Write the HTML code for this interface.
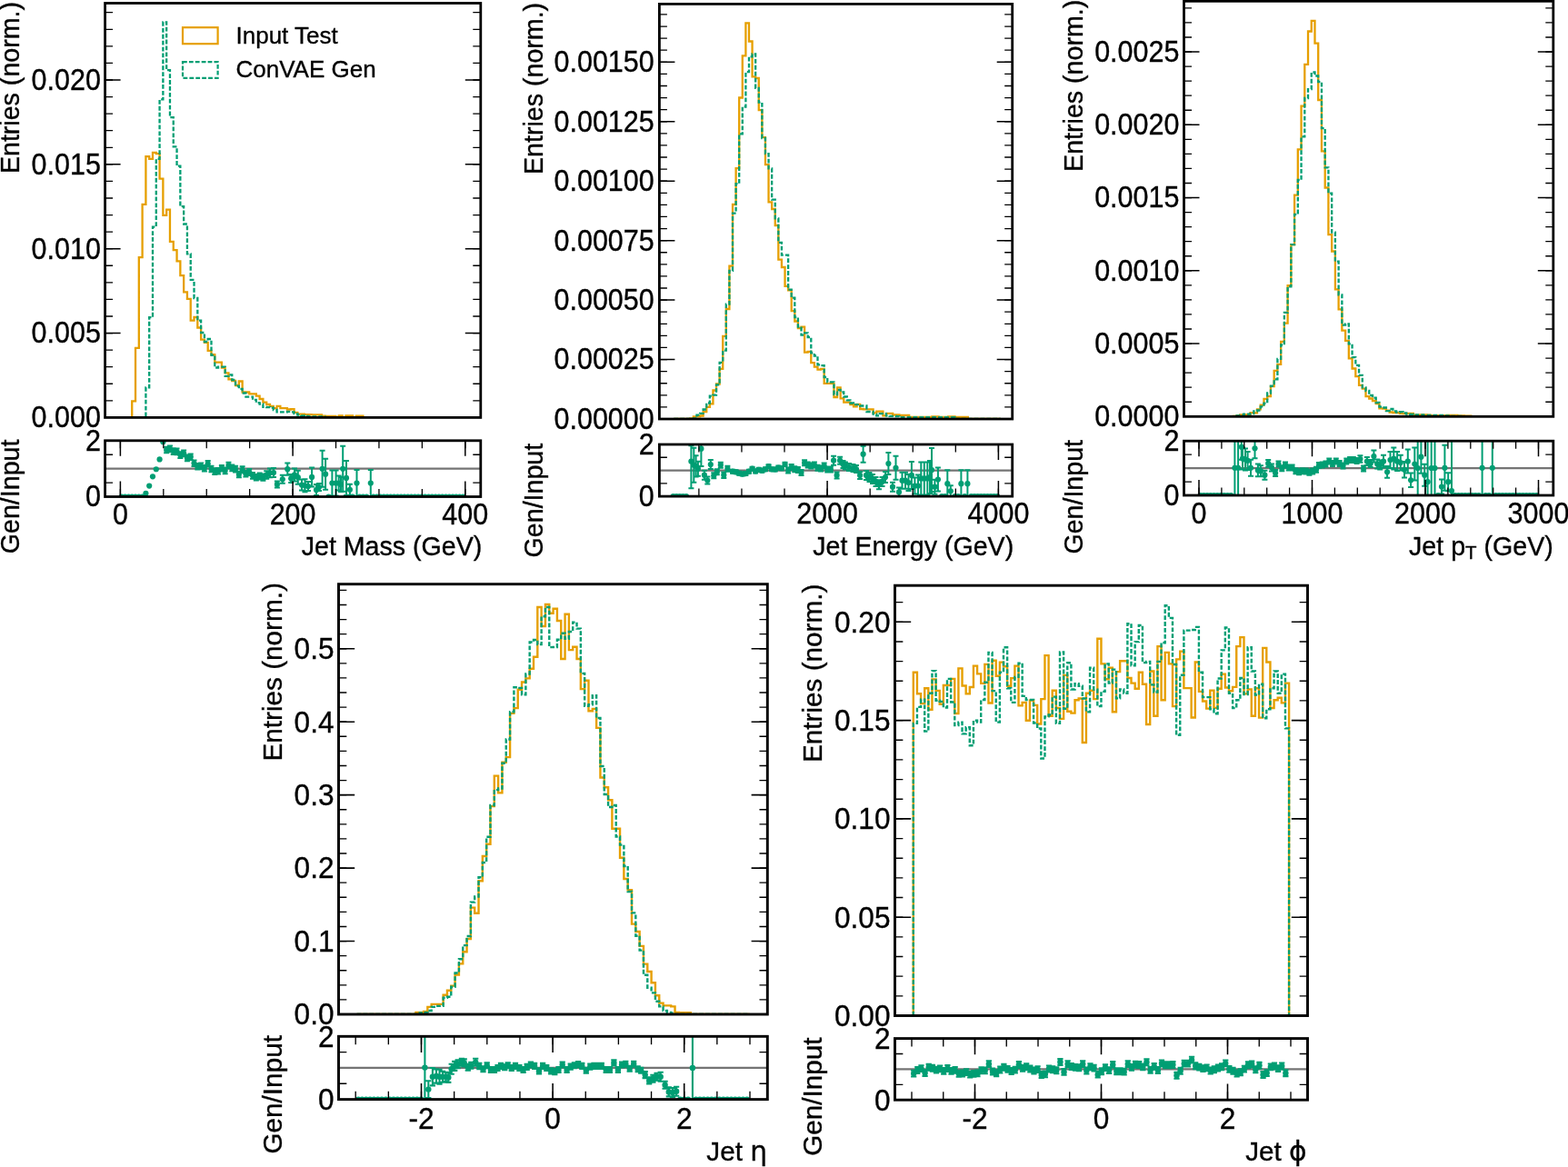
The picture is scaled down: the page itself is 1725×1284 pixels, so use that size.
<!DOCTYPE html>
<html><head><meta charset="utf-8"><title>Jet distributions</title>
<style>html,body{margin:0;padding:0;background:#fff;} svg{display:block;}</style></head>
<body><svg width="1725" height="1284" viewBox="0 0 1725 1284" font-family="'Liberation Sans', Arial, Helvetica, sans-serif" fill="#000">
<style>text{stroke:#000;stroke-width:0.35px;}</style>
<rect width="1725" height="1284" fill="#fff"/>
<clipPath id="cm"><rect x="115.6" y="3.5" width="413.19999999999993" height="455.9"/></clipPath>
<clipPath id="rm"><rect x="115.6" y="484.8" width="413.19999999999993" height="61.69999999999999"/></clipPath>
<path d="M133.85,459.40 L145.23,459.40 L145.23,441.30 L149.03,441.30 L149.03,382.80 L152.82,382.80 L152.82,283.20 L156.61,283.20 L156.61,224.80 L160.41,224.80 L160.41,172.20 L164.20,172.20 L164.20,174.80 L168.00,174.80 L168.00,167.80 L171.79,167.80 L171.79,169.10 L175.58,169.10 L175.58,196.70 L179.38,196.70 L179.38,236.80 L183.17,236.80 L183.17,230.60 L186.97,230.60 L186.97,265.80 L190.76,265.80 L190.76,275.10 L194.55,275.10 L194.55,287.30 L198.35,287.30 L198.35,303.20 L202.14,303.20 L202.14,321.40 L205.94,321.40 L205.94,328.90 L209.73,328.90 L209.73,352.70 L213.52,352.70 L213.52,349.00 L217.32,349.00 L217.32,360.50 L221.11,360.50 L221.11,373.70 L224.91,373.70 L224.91,376.90 L228.70,376.90 L228.70,385.80 L232.49,385.80 L232.49,390.10 L236.29,390.10 L236.29,398.70 L243.88,398.70 L243.88,404.50 L247.67,404.50 L247.67,410.30 L251.46,410.30 L251.46,417.30 L255.26,417.30 L255.26,419.00 L259.05,419.00 L259.05,424.00 L262.85,424.00 L262.85,419.50 L266.64,419.50 L266.64,431.50 L274.23,431.50 L274.23,433.40 L281.82,433.40 L281.82,435.70 L285.61,435.70 L285.61,439.00 L289.40,439.00 L289.40,442.70 L293.20,442.70 L293.20,445.00 L296.99,445.00 L296.99,446.80 L300.79,446.80 L300.79,449.20 L304.58,449.20 L304.58,446.80 L308.37,446.80 L308.37,449.20 L315.96,449.20 L315.96,450.50 L319.76,450.50 L319.76,450.10 L323.55,450.10 L323.55,453.80 L327.34,453.80 L327.34,455.70 L334.93,455.70 L334.93,456.10 L342.52,456.10 L342.52,456.40 L353.90,456.40 L353.90,457.60 L357.70,457.60 L357.70,457.80 L365.28,457.80 L365.28,457.90 L369.08,457.90 L369.08,458.60 L372.87,458.60 L372.87,457.50 L376.67,457.50 L376.67,458.80 L380.46,458.80 L380.46,457.30 L388.05,457.30 L388.05,458.80 L391.84,458.80 L391.84,457.60 L399.43,457.60 L399.43,459.40 L513.25,459.40" fill="none" stroke="#E69F00" stroke-width="2.30" stroke-linejoin="miter" stroke-linecap="butt" clip-path="url(#cm)"/>
<path d="M133.85,459.40 L160.41,459.40 L160.41,426.30 L164.20,426.30 L164.20,349.20 L168.00,349.20 L168.00,249.60 L171.79,249.60 L171.79,174.90 L175.58,174.90 L175.58,109.40 L179.38,109.40 L179.38,24.30 L183.17,24.30 L183.17,77.20 L186.97,77.20 L186.97,129.10 L190.76,129.10 L190.76,161.30 L194.55,161.30 L194.55,182.70 L198.35,182.70 L198.35,227.10 L202.14,227.10 L202.14,246.50 L205.94,246.50 L205.94,279.30 L209.73,279.30 L209.73,307.90 L213.52,307.90 L213.52,328.00 L217.32,328.00 L217.32,352.70 L221.11,352.70 L221.11,366.00 L224.91,366.00 L224.91,376.00 L228.70,376.00 L228.70,373.00 L232.49,373.00 L232.49,390.90 L236.29,390.90 L236.29,404.50 L240.08,404.50 L240.08,403.70 L247.67,403.70 L247.67,413.80 L251.46,413.80 L251.46,412.30 L255.26,412.30 L255.26,418.00 L259.05,418.00 L259.05,424.60 L262.85,424.60 L262.85,427.80 L266.64,427.80 L266.64,432.50 L270.43,432.50 L270.43,436.60 L278.02,436.60 L278.02,439.90 L281.82,439.90 L281.82,443.10 L285.61,443.10 L285.61,444.50 L289.40,444.50 L289.40,447.80 L293.20,447.80 L293.20,448.20 L296.99,448.20 L296.99,448.70 L300.79,448.70 L300.79,451.00 L304.58,451.00 L304.58,453.30 L315.96,453.30 L315.96,452.90 L319.76,452.90 L319.76,453.30 L323.55,453.30 L323.55,455.20 L327.34,455.20 L327.34,456.60 L331.14,456.60 L331.14,457.50 L334.93,457.50 L334.93,458.00 L338.73,458.00 L338.73,458.20 L342.52,458.20 L342.52,458.30 L346.31,458.30 L346.31,458.40 L350.11,458.40 L350.11,458.50 L353.90,458.50 L353.90,458.60 L357.70,458.60 L357.70,459.40 L513.25,459.40" fill="none" stroke="#009E73" stroke-width="2.30" stroke-dasharray="4.8 2.1" stroke-linejoin="miter" stroke-linecap="butt" clip-path="url(#cm)"/>
<line x1="115.6" y1="515.65" x2="528.8" y2="515.65" stroke="#747474" stroke-width="2.20"/>
<path d="M183.17,491.67V498.27M180.17,491.67H186.17M180.17,498.27H186.17M186.97,490.57V497.17M183.97,490.57H189.97M183.97,497.17H189.97M190.76,493.30V499.90M187.76,493.30H193.76M187.76,499.90H193.76M194.55,493.60V500.20M191.55,493.60H197.55M191.55,500.20H197.55M198.35,497.32V503.92M195.35,497.32H201.35M195.35,503.92H201.35M202.14,495.61V502.21M199.14,495.61H205.14M199.14,502.21H205.14M205.94,500.62V507.22M202.94,500.62H208.94M202.94,507.22H208.94M209.73,499.40V506.00M206.73,499.40H212.73M206.73,506.00H212.73M213.52,506.48V513.08M210.52,506.48H216.52M210.52,513.08H216.52M217.32,509.92V516.52M214.32,509.92H220.32M214.32,516.52H220.32M221.11,509.58V516.18M218.11,509.58H224.11M218.11,516.18H224.11M224.91,512.01V518.61M221.91,512.01H227.91M221.91,518.61H227.91M228.70,506.98V513.58M225.70,506.98H231.70M225.70,513.58H231.70M232.49,512.71V519.31M229.49,512.71H235.49M229.49,519.31H235.49M236.29,515.30V521.90M233.29,515.30H239.29M233.29,521.90H239.29M240.08,514.89V521.49M237.08,514.89H243.08M237.08,521.49H243.08M243.88,511.90V518.50M240.88,511.90H246.88M240.88,518.50H246.88M247.67,514.55V521.15M244.67,514.55H250.67M244.67,521.15H250.67M251.46,508.69V515.29M248.46,508.69H254.46M248.46,515.29H254.46M255.26,511.59V518.19M252.26,511.59H258.26M252.26,518.19H258.26M259.05,512.87V519.47M256.05,512.87H262.05M256.05,519.47H262.05M262.85,518.77V525.37M259.85,518.77H265.85M259.85,525.37H265.85M266.64,513.14V520.37M263.64,513.14H269.64M263.64,520.37H269.64M270.43,517.99V524.59M267.43,517.99H273.43M267.43,524.59H273.43M274.23,515.95V522.94M271.23,515.95H277.23M271.23,522.94H277.23M278.02,520.06V526.66M275.02,520.06H281.02M275.02,526.66H281.02M281.82,521.98V528.58M278.82,521.98H284.82M278.82,528.58H284.82M285.61,520.51V527.42M282.61,520.51H288.61M282.61,527.42H288.61M289.40,521.39V528.76M286.40,521.39H292.40M286.40,528.76H292.40M293.20,518.20V526.81M290.20,518.20H296.20M290.20,526.81H296.20M296.99,515.40V525.20M293.99,515.40H299.99M293.99,525.20H299.99M301.00,515.00V525.00M298.00,515.00H304.00M298.00,525.00H304.00M304.90,529.40V536.40M301.90,529.40H307.90M301.90,536.40H307.90M310.80,522.80V531.80M307.80,522.80H313.80M307.80,531.80H313.80M316.30,509.60V522.80M313.30,509.60H319.30M313.30,522.80H319.30M320.20,522.10V531.10M317.20,522.10H323.20M317.20,531.10H323.20M324.00,515.40V529.40M321.00,515.40H327.00M321.00,529.40H327.00M327.80,517.70V532.70M324.80,517.70H330.80M324.80,532.70H330.80M332.00,527.60V539.60M329.00,527.60H335.00M329.00,539.60H335.00M335.50,527.30V541.30M332.50,527.30H338.50M332.50,541.30H338.50M339.00,530.00V540.00M336.00,530.00H342.00M336.00,540.00H342.00M343.10,514.40V535.40M340.10,514.40H346.10M340.10,535.40H346.10M348.00,533.10V545.10M345.00,533.10H351.00M345.00,545.10H351.00M351.00,532.00V540.00M348.00,532.00H354.00M348.00,540.00H354.00M354.60,495.80V535.80M351.60,495.80H357.60M351.60,535.80H357.60M358.10,504.70V538.70M355.10,504.70H361.10M355.10,538.70H361.10M365.40,517.50V545.50M362.40,517.50H368.40M362.40,545.50H368.40M369.60,517.50V545.50M366.60,517.50H372.60M366.60,545.50H372.60M372.70,523.50V539.50M369.70,523.50H375.70M369.70,539.50H375.70M375.00,525.00V541.00M372.00,525.00H378.00M372.00,541.00H378.00M377.20,490.80V540.80M374.20,490.80H380.20M374.20,540.80H380.20M381.00,506.90V544.90M378.00,506.90H384.00M378.00,544.90H384.00M384.90,532.80V544.80M381.90,532.80H387.90M381.90,544.80H387.90M392.50,517.00V546.00M389.50,517.00H395.50M389.50,546.00H395.50M407.80,517.00V546.00M404.80,517.00H410.80M404.80,546.00H410.80" stroke="#009E73" stroke-width="2.00" fill="none" clip-path="url(#rm)"/>
<g fill="#009E73" clip-path="url(#rm)"><circle cx="133.85" cy="546.50" r="3.10"/><circle cx="137.64" cy="546.50" r="3.10"/><circle cx="141.44" cy="546.50" r="3.10"/><circle cx="145.23" cy="546.50" r="3.10"/><circle cx="149.03" cy="546.50" r="3.10"/><circle cx="152.82" cy="546.50" r="3.10"/><circle cx="156.61" cy="546.50" r="3.10"/><circle cx="160.41" cy="542.94" r="3.10"/><circle cx="164.20" cy="534.55" r="3.10"/><circle cx="168.00" cy="524.30" r="3.10"/><circle cx="171.79" cy="516.27" r="3.10"/><circle cx="175.58" cy="505.40" r="3.10"/><circle cx="179.38" cy="486.20" r="3.10"/><circle cx="183.17" cy="494.97" r="3.10"/><circle cx="186.97" cy="493.87" r="3.10"/><circle cx="190.76" cy="496.60" r="3.10"/><circle cx="194.55" cy="496.90" r="3.10"/><circle cx="198.35" cy="500.62" r="3.10"/><circle cx="202.14" cy="498.91" r="3.10"/><circle cx="205.94" cy="503.92" r="3.10"/><circle cx="209.73" cy="502.70" r="3.10"/><circle cx="213.52" cy="509.78" r="3.10"/><circle cx="217.32" cy="513.22" r="3.10"/><circle cx="221.11" cy="512.88" r="3.10"/><circle cx="224.91" cy="515.31" r="3.10"/><circle cx="228.70" cy="510.28" r="3.10"/><circle cx="232.49" cy="516.01" r="3.10"/><circle cx="236.29" cy="518.60" r="3.10"/><circle cx="240.08" cy="518.19" r="3.10"/><circle cx="243.88" cy="515.20" r="3.10"/><circle cx="247.67" cy="517.85" r="3.10"/><circle cx="251.46" cy="511.99" r="3.10"/><circle cx="255.26" cy="514.89" r="3.10"/><circle cx="259.05" cy="516.17" r="3.10"/><circle cx="262.85" cy="522.07" r="3.10"/><circle cx="266.64" cy="516.76" r="3.10"/><circle cx="270.43" cy="521.29" r="3.10"/><circle cx="274.23" cy="519.45" r="3.10"/><circle cx="278.02" cy="523.36" r="3.10"/><circle cx="281.82" cy="525.28" r="3.10"/><circle cx="285.61" cy="523.97" r="3.10"/><circle cx="289.40" cy="525.07" r="3.10"/><circle cx="293.20" cy="522.51" r="3.10"/><circle cx="296.99" cy="520.30" r="3.10"/><circle cx="301.00" cy="520.00" r="3.10"/><circle cx="304.90" cy="532.90" r="3.10"/><circle cx="310.80" cy="527.30" r="3.10"/><circle cx="316.30" cy="516.20" r="3.10"/><circle cx="320.20" cy="526.60" r="3.10"/><circle cx="324.00" cy="522.40" r="3.10"/><circle cx="327.80" cy="525.20" r="3.10"/><circle cx="332.00" cy="533.60" r="3.10"/><circle cx="335.50" cy="534.30" r="3.10"/><circle cx="339.00" cy="535.00" r="3.10"/><circle cx="343.10" cy="524.90" r="3.10"/><circle cx="348.00" cy="539.10" r="3.10"/><circle cx="351.00" cy="536.00" r="3.10"/><circle cx="354.60" cy="515.80" r="3.10"/><circle cx="358.10" cy="521.70" r="3.10"/><circle cx="365.40" cy="531.50" r="3.10"/><circle cx="369.60" cy="531.50" r="3.10"/><circle cx="372.70" cy="531.50" r="3.10"/><circle cx="375.00" cy="533.00" r="3.10"/><circle cx="377.20" cy="515.80" r="3.10"/><circle cx="381.00" cy="525.90" r="3.10"/><circle cx="384.90" cy="538.80" r="3.10"/><circle cx="392.50" cy="531.50" r="3.10"/><circle cx="407.80" cy="531.50" r="3.10"/><circle cx="361.49" cy="546.50" r="3.10"/><circle cx="388.05" cy="546.50" r="3.10"/><circle cx="395.64" cy="546.50" r="3.10"/><circle cx="399.43" cy="546.50" r="3.10"/><circle cx="403.22" cy="546.50" r="3.10"/><circle cx="410.81" cy="546.50" r="3.10"/><circle cx="414.61" cy="546.50" r="3.10"/><circle cx="418.40" cy="546.50" r="3.10"/><circle cx="422.19" cy="546.50" r="3.10"/><circle cx="425.99" cy="546.50" r="3.10"/><circle cx="429.78" cy="546.50" r="3.10"/><circle cx="433.58" cy="546.50" r="3.10"/><circle cx="437.37" cy="546.50" r="3.10"/><circle cx="441.16" cy="546.50" r="3.10"/><circle cx="444.96" cy="546.50" r="3.10"/><circle cx="448.75" cy="546.50" r="3.10"/><circle cx="452.55" cy="546.50" r="3.10"/><circle cx="456.34" cy="546.50" r="3.10"/><circle cx="460.13" cy="546.50" r="3.10"/><circle cx="463.93" cy="546.50" r="3.10"/><circle cx="467.72" cy="546.50" r="3.10"/><circle cx="471.52" cy="546.50" r="3.10"/><circle cx="475.31" cy="546.50" r="3.10"/><circle cx="479.10" cy="546.50" r="3.10"/><circle cx="482.90" cy="546.50" r="3.10"/><circle cx="486.69" cy="546.50" r="3.10"/><circle cx="490.49" cy="546.50" r="3.10"/><circle cx="494.28" cy="546.50" r="3.10"/><circle cx="498.07" cy="546.50" r="3.10"/><circle cx="501.87" cy="546.50" r="3.10"/><circle cx="505.66" cy="546.50" r="3.10"/><circle cx="509.46" cy="546.50" r="3.10"/></g>
<path d="M132.40,546.50V538.00M132.40,484.80V493.30M179.82,546.50V538.00M179.82,484.80V493.30M227.25,546.50V538.00M227.25,484.80V493.30M274.68,546.50V538.00M274.68,484.80V493.30M322.10,546.50V538.00M322.10,484.80V493.30M369.52,546.50V538.00M369.52,484.80V493.30M416.95,546.50V538.00M416.95,484.80V493.30M464.38,546.50V538.00M464.38,484.80V493.30M511.80,546.50V538.00M511.80,484.80V493.30M115.60,440.83H124.10M528.80,440.83H520.30M115.60,422.26H124.10M528.80,422.26H520.30M115.60,403.69H124.10M528.80,403.69H520.30M115.60,385.12H124.10M528.80,385.12H520.30M115.60,366.55H124.10M528.80,366.55H520.30M115.60,347.98H124.10M528.80,347.98H520.30M115.60,329.41H124.10M528.80,329.41H520.30M115.60,310.84H124.10M528.80,310.84H520.30M115.60,292.27H124.10M528.80,292.27H520.30M115.60,273.70H124.10M528.80,273.70H520.30M115.60,255.13H124.10M528.80,255.13H520.30M115.60,236.56H124.10M528.80,236.56H520.30M115.60,217.99H124.10M528.80,217.99H520.30M115.60,199.42H124.10M528.80,199.42H520.30M115.60,180.85H124.10M528.80,180.85H520.30M115.60,162.28H124.10M528.80,162.28H520.30M115.60,143.71H124.10M528.80,143.71H520.30M115.60,125.14H124.10M528.80,125.14H520.30M115.60,106.57H124.10M528.80,106.57H520.30M115.60,88.00H124.10M528.80,88.00H520.30M115.60,69.43H124.10M528.80,69.43H520.30M115.60,50.86H124.10M528.80,50.86H520.30M115.60,32.29H124.10M528.80,32.29H520.30M115.60,13.72H124.10M528.80,13.72H520.30M115.60,531.08H124.10M528.80,531.08H520.30M115.60,500.23H124.10M528.80,500.23H520.30" stroke="#000" stroke-width="1.30" fill="none"/>
<path d="M132.40,546.50V529.50M132.40,484.80V501.80M322.10,546.50V529.50M322.10,484.80V501.80M511.80,546.50V529.50M511.80,484.80V501.80M115.60,366.55H132.60M528.80,366.55H511.80M115.60,273.70H132.60M528.80,273.70H511.80M115.60,180.85H132.60M528.80,180.85H511.80M115.60,88.00H132.60M528.80,88.00H511.80" stroke="#000" stroke-width="1.50" fill="none"/>
<rect x="115.6" y="3.5" width="413.19999999999993" height="455.9" fill="none" stroke="#000" stroke-width="2.80"/>
<rect x="115.6" y="484.8" width="413.19999999999993" height="61.69999999999999" fill="none" stroke="#000" stroke-width="2.80"/>
<g font-size="31px" stroke="#000" stroke-width="0.35"><text transform="translate(110.90,458.60) scale(0.985,1.055)" y="11.10" text-anchor="end">0.000</text><text transform="translate(110.90,365.75) scale(0.985,1.055)" y="11.10" text-anchor="end">0.005</text><text transform="translate(110.90,272.90) scale(0.985,1.055)" y="11.10" text-anchor="end">0.010</text><text transform="translate(110.90,180.05) scale(0.985,1.055)" y="11.10" text-anchor="end">0.015</text><text transform="translate(110.90,87.20) scale(0.985,1.055)" y="11.10" text-anchor="end">0.020</text><text transform="translate(110.90,484.00) scale(0.985,1.055)" y="11.10" text-anchor="end">2</text><text transform="translate(110.90,545.70) scale(0.985,1.055)" y="11.10" text-anchor="end">0</text><text transform="translate(132.40,565.40) scale(0.985,1.055)" y="11.10" text-anchor="middle">0</text><text transform="translate(322.10,565.40) scale(0.985,1.055)" y="11.10" text-anchor="middle">200</text><text transform="translate(511.80,565.40) scale(0.985,1.055)" y="11.10" text-anchor="middle">400</text></g>
<text x="530.30" y="610.50" text-anchor="end" font-size="28.6px">Jet Mass (GeV)</text>
<text transform="translate(21.00,2.00) rotate(-90)" text-anchor="end" font-size="28.6px">Entries (norm.)</text>
<text transform="translate(21.00,483.60) rotate(-90)" text-anchor="end" font-size="28.6px">Gen/Input</text>
<clipPath id="ce"><rect x="725.4" y="4.4" width="388.30000000000007" height="456.6"/></clipPath>
<clipPath id="re"><rect x="725.4" y="489" width="388.30000000000007" height="57.10000000000002"/></clipPath>
<path d="M741.30,461.00 L759.27,461.00 L759.27,460.50 L762.87,460.50 L762.87,458.40 L770.06,458.40 L770.06,457.50 L773.65,457.50 L773.65,453.20 L777.25,453.20 L777.25,447.90 L780.84,447.90 L780.84,444.40 L784.44,444.40 L784.44,429.50 L788.03,429.50 L788.03,422.50 L791.63,422.50 L791.63,405.80 L795.22,405.80 L795.22,369.80 L798.82,369.80 L798.82,340.00 L802.41,340.00 L802.41,292.60 L806.01,292.60 L806.01,225.00 L809.61,225.00 L809.61,185.10 L813.20,185.10 L813.20,107.50 L816.79,107.50 L816.79,61.40 L820.39,61.40 L820.39,25.40 L823.98,25.40 L823.98,45.50 L827.58,45.50 L827.58,84.30 L831.17,84.30 L831.17,86.00 L834.77,86.00 L834.77,121.10 L838.37,121.10 L838.37,151.10 L841.96,151.10 L841.96,181.10 L845.55,181.10 L845.55,222.30 L849.15,222.30 L849.15,230.00 L852.75,230.00 L852.75,248.00 L856.34,248.00 L856.34,285.70 L859.93,285.70 L859.93,294.00 L863.53,294.00 L863.53,314.80 L867.12,314.80 L867.12,319.30 L870.72,319.30 L870.72,342.10 L874.31,342.10 L874.31,353.50 L877.91,353.50 L877.91,361.10 L881.50,361.10 L881.50,359.60 L885.10,359.60 L885.10,387.70 L888.69,387.70 L888.69,386.90 L892.29,386.90 L892.29,399.10 L895.88,399.10 L895.88,403.60 L899.48,403.60 L899.48,406.70 L903.07,406.70 L903.07,405.90 L906.67,405.90 L906.67,421.80 L917.45,421.80 L917.45,437.00 L921.05,437.00 L921.05,426.40 L924.64,426.40 L924.64,438.30 L928.24,438.30 L928.24,442.60 L935.43,442.60 L935.43,445.20 L939.02,445.20 L939.02,447.40 L942.62,447.40 L942.62,444.80 L946.21,444.80 L946.21,450.00 L949.81,450.00 L949.81,450.40 L960.60,450.40 L960.60,454.30 L964.19,454.30 L964.19,452.60 L971.38,452.60 L971.38,457.40 L974.97,457.40 L974.97,454.80 L982.16,454.80 L982.16,456.50 L989.36,456.50 L989.36,457.00 L1000.14,457.00 L1000.14,459.00 L1025.30,459.00 L1025.30,458.30 L1032.49,458.30 L1032.49,459.00 L1043.28,459.00 L1043.28,458.40 L1050.47,458.40 L1050.47,459.00 L1064.85,459.00 L1064.85,461.00 L1100.80,461.00" fill="none" stroke="#E69F00" stroke-width="2.30" stroke-linejoin="miter" stroke-linecap="butt" clip-path="url(#ce)"/>
<path d="M741.30,461.00 L762.87,461.00 L762.87,460.50 L766.46,460.50 L766.46,456.70 L770.06,456.70 L770.06,454.90 L773.65,454.90 L773.65,450.50 L777.25,450.50 L777.25,443.50 L780.84,443.50 L780.84,435.60 L784.44,435.60 L784.44,434.70 L788.03,434.70 L788.03,423.30 L791.63,423.30 L791.63,398.80 L795.22,398.80 L795.22,385.60 L798.82,385.60 L798.82,334.70 L802.41,334.70 L802.41,297.90 L806.01,297.90 L806.01,234.70 L809.61,234.70 L809.61,202.10 L813.20,202.10 L813.20,147.40 L816.79,147.40 L816.79,117.50 L820.39,117.50 L820.39,79.20 L823.98,79.20 L823.98,62.30 L827.58,62.30 L827.58,59.50 L831.17,59.50 L831.17,96.90 L834.77,96.90 L834.77,112.70 L838.37,112.70 L838.37,152.00 L841.96,152.00 L841.96,169.10 L845.55,169.10 L845.55,185.40 L849.15,185.40 L849.15,219.70 L852.75,219.70 L852.75,240.30 L856.34,240.30 L856.34,266.90 L859.93,266.90 L859.93,280.60 L867.12,280.60 L867.12,318.60 L870.72,318.60 L870.72,327.70 L874.31,327.70 L874.31,349.00 L877.91,349.00 L877.91,359.60 L881.50,359.60 L881.50,368.70 L885.10,368.70 L885.10,366.40 L888.69,366.40 L888.69,371.00 L892.29,371.00 L892.29,388.40 L895.88,388.40 L895.88,391.50 L899.48,391.50 L899.48,401.30 L903.07,401.30 L903.07,402.10 L906.67,402.10 L906.67,415.00 L910.26,415.00 L910.26,420.30 L917.45,420.30 L917.45,434.00 L921.05,434.00 L921.05,429.00 L924.64,429.00 L924.64,431.30 L928.24,431.30 L928.24,436.50 L931.83,436.50 L931.83,440.40 L935.43,440.40 L935.43,443.50 L939.02,443.50 L939.02,445.20 L946.21,445.20 L946.21,446.50 L953.40,446.50 L953.40,453.00 L960.60,453.00 L960.60,455.70 L964.19,455.70 L964.19,457.40 L967.78,457.40 L967.78,455.20 L974.97,455.20 L974.97,457.40 L978.57,457.40 L978.57,457.80 L985.76,457.80 L985.76,458.20 L989.36,458.20 L989.36,459.10 L1050.47,459.10 L1050.47,461.00 L1100.80,461.00" fill="none" stroke="#009E73" stroke-width="2.30" stroke-dasharray="4.8 2.1" stroke-linejoin="miter" stroke-linecap="butt" clip-path="url(#ce)"/>
<line x1="725.4" y1="517.55" x2="1113.7" y2="517.55" stroke="#747474" stroke-width="2.20"/>
<path d="M760.40,490.20V537.20M757.40,490.20H763.40M757.40,537.20H763.40M763.30,492.70V530.70M760.30,492.70H766.30M760.30,530.70H766.30M765.60,501.20V524.40M762.60,501.20H768.60M762.60,524.40H768.60M767.90,507.70V523.70M764.90,507.70H770.90M764.90,523.70H770.90M771.40,470.00V513.00M768.40,470.00H774.40M768.40,513.00H774.40M774.90,517.70V527.70M771.90,517.70H777.90M771.90,527.70H777.90M778.30,524.50V532.50M775.30,524.50H781.30M775.30,532.50H781.30M781.80,506.10V516.10M778.80,506.10H784.80M778.80,516.10H784.80M785.30,520.30V526.30M782.30,520.30H788.30M782.30,526.30H788.30M788.80,516.20V522.20M785.80,516.20H791.80M785.80,522.20H791.80M792.80,508.70V514.70M789.80,508.70H795.80M789.80,514.70H795.80M796.30,519.50V525.90M793.30,519.50H799.30M793.30,525.90H799.30M800.40,512.70V518.70M797.40,512.70H803.40M797.40,518.70H803.40M806.01,516.72V520.72M803.01,516.72H809.01M803.01,520.72H809.01M809.61,517.31V521.31M806.61,517.31H812.61M806.61,521.31H812.61M813.20,518.77V522.77M810.20,518.77H816.20M810.20,522.77H816.20M816.79,519.56V523.56M813.79,519.56H819.79M813.79,523.56H819.79M820.39,519.08V523.08M817.39,519.08H823.39M817.39,523.08H823.39M823.98,516.70V520.70M820.98,516.70H826.98M820.98,520.70H826.98M827.58,513.67V517.67M824.58,513.67H830.58M824.58,517.67H830.58M831.17,516.38V520.38M828.17,516.38H834.17M828.17,520.38H834.17M834.77,514.84V518.84M831.77,514.84H837.77M831.77,518.84H837.77M838.37,515.63V519.63M835.37,515.63H841.37M835.37,519.63H841.37M841.96,514.33V518.33M838.96,514.33H844.96M838.96,518.33H844.96M845.55,511.14V515.14M842.55,511.14H848.55M842.55,515.14H848.55M849.15,514.28V518.28M846.15,514.28H852.15M846.15,518.28H852.15M852.75,514.52V518.52M849.75,514.52H855.75M849.75,518.52H855.75M856.34,512.49V516.49M853.34,512.49H859.34M853.34,516.49H859.34M859.93,513.26V517.26M856.93,513.26H862.93M856.93,517.26H862.93M863.53,508.87V512.87M860.53,508.87H866.53M860.53,512.87H866.53M867.12,514.41V520.41M864.12,514.41H870.12M864.12,520.41H870.12M870.72,511.09V517.09M867.72,511.09H873.72M867.72,517.09H873.72M874.31,513.35V519.35M871.31,513.35H877.31M871.31,519.35H877.31M877.91,514.12V520.12M874.91,514.12H880.91M874.91,520.12H880.91M881.50,517.11V523.11M878.50,517.11H884.50M878.50,523.11H884.50M885.10,506.25V512.25M882.10,506.25H888.10M882.10,512.25H888.10M888.69,508.42V514.42M885.69,508.42H891.69M885.69,514.42H891.69M892.29,509.61V515.61M889.29,509.61H895.29M889.29,515.61H895.29M895.88,508.53V514.53M892.88,508.53H898.88M892.88,514.53H898.88M899.48,511.71V517.71M896.48,511.71H902.48M896.48,517.71H902.48M903.07,512.58V518.58M900.07,512.58H906.07M900.07,518.58H906.07M906.67,509.60V515.60M903.67,509.60H909.67M903.67,515.60H909.67M910.26,513.46V519.46M907.26,513.46H913.26M907.26,519.46H913.26M913.86,513.46V519.46M910.86,513.46H916.86M910.86,519.46H916.86M917.10,501.70V511.70M914.10,501.70H920.10M914.10,511.70H920.10M920.60,519.40V526.40M917.60,519.40H923.60M917.60,526.40H923.60M924.10,502.70V510.70M921.10,502.70H927.10M921.10,510.70H927.10M927.50,507.00V515.00M924.50,507.00H930.50M924.50,515.00H930.50M929.90,508.50V516.50M926.90,508.50H932.90M926.90,516.50H932.90M934.00,510.00V518.00M931.00,510.00H937.00M931.00,518.00H937.00M938.50,511.00V519.00M935.50,511.00H941.50M935.50,519.00H941.50M942.00,512.00V520.00M939.00,512.00H945.00M939.00,520.00H945.00M946.10,518.90V526.90M943.10,518.90H949.10M943.10,526.90H949.10M949.60,490.70V508.70M946.60,490.70H952.60M946.60,508.70H952.60M953.00,517.90V527.90M950.00,517.90H956.00M950.00,527.90H956.00M956.50,520.00V530.00M953.50,520.00H959.50M953.50,530.00H959.50M960.00,522.00V532.00M957.00,522.00H963.00M957.00,532.00H963.00M963.50,524.90V534.90M960.50,524.90H966.50M960.50,534.90H966.50M967.00,528.30V538.30M964.00,528.30H970.00M964.00,538.30H970.00M970.50,524.90V534.90M967.50,524.90H973.50M967.50,534.90H973.50M974.00,519.00V531.00M971.00,519.00H977.00M971.00,531.00H977.00M977.40,498.10V522.10M974.40,498.10H980.40M974.40,522.10H980.40M982.00,530.70V540.70M979.00,530.70H985.00M979.00,540.70H985.00M985.50,501.80V527.80M982.50,501.80H988.50M982.50,527.80H988.50M989.00,536.40V546.40M986.00,536.40H992.00M986.00,546.40H992.00M992.50,519.70V537.70M989.50,519.70H995.50M989.50,537.70H995.50M996.00,519.70V537.70M993.00,519.70H999.00M993.00,537.70H999.00M999.50,522.00V540.00M996.50,522.00H1002.50M996.50,540.00H1002.50M1002.90,507.90V537.90M999.90,507.90H1005.90M999.90,537.90H1005.90M1006.40,525.50V543.50M1003.40,525.50H1009.40M1003.40,543.50H1009.40M1010.00,522.50V546.50M1007.00,522.50H1013.00M1007.00,546.50H1013.00M1013.30,508.40V544.40M1010.30,508.40H1016.30M1010.30,544.40H1016.30M1016.80,508.40V544.40M1013.80,508.40H1019.80M1013.80,544.40H1019.80M1020.30,508.40V544.40M1017.30,508.40H1023.30M1017.30,544.40H1023.30M1023.00,507.00V543.00M1020.00,507.00H1026.00M1020.00,543.00H1026.00M1025.00,493.10V541.10M1022.00,493.10H1028.00M1022.00,541.10H1028.00M1028.40,527.70V543.70M1025.40,527.70H1031.40M1025.40,543.70H1031.40M1031.90,514.50V540.50M1028.90,514.50H1034.90M1028.90,540.50H1034.90M1042.30,517.20V547.20M1039.30,517.20H1045.30M1039.30,547.20H1045.30M1045.80,534.30V546.30M1042.80,534.30H1048.80M1042.80,546.30H1048.80M1057.40,517.20V547.20M1054.40,517.20H1060.40M1054.40,547.20H1060.40M1064.40,517.20V547.20M1061.40,517.20H1067.40M1061.40,547.20H1067.40" stroke="#009E73" stroke-width="2.00" fill="none" clip-path="url(#re)"/>
<g fill="#009E73" clip-path="url(#re)"><circle cx="740.60" cy="546.10" r="3.10"/><circle cx="744.20" cy="546.10" r="3.10"/><circle cx="747.80" cy="546.10" r="3.10"/><circle cx="751.40" cy="546.10" r="3.10"/><circle cx="755.00" cy="546.10" r="3.10"/><circle cx="760.40" cy="507.60" r="3.10"/><circle cx="763.30" cy="511.70" r="3.10"/><circle cx="765.60" cy="512.80" r="3.10"/><circle cx="767.90" cy="515.70" r="3.10"/><circle cx="771.40" cy="493.70" r="3.10"/><circle cx="774.90" cy="522.70" r="3.10"/><circle cx="778.30" cy="528.50" r="3.10"/><circle cx="781.80" cy="511.10" r="3.10"/><circle cx="785.30" cy="523.30" r="3.10"/><circle cx="788.80" cy="519.20" r="3.10"/><circle cx="792.80" cy="511.70" r="3.10"/><circle cx="796.30" cy="522.70" r="3.10"/><circle cx="800.40" cy="515.70" r="3.10"/><circle cx="806.01" cy="518.72" r="3.10"/><circle cx="809.61" cy="519.31" r="3.10"/><circle cx="813.20" cy="520.77" r="3.10"/><circle cx="816.79" cy="521.56" r="3.10"/><circle cx="820.39" cy="521.08" r="3.10"/><circle cx="823.98" cy="518.70" r="3.10"/><circle cx="827.58" cy="515.67" r="3.10"/><circle cx="831.17" cy="518.38" r="3.10"/><circle cx="834.77" cy="516.84" r="3.10"/><circle cx="838.37" cy="517.63" r="3.10"/><circle cx="841.96" cy="516.33" r="3.10"/><circle cx="845.55" cy="513.14" r="3.10"/><circle cx="849.15" cy="516.28" r="3.10"/><circle cx="852.75" cy="516.52" r="3.10"/><circle cx="856.34" cy="514.49" r="3.10"/><circle cx="859.93" cy="515.26" r="3.10"/><circle cx="863.53" cy="510.87" r="3.10"/><circle cx="867.12" cy="517.41" r="3.10"/><circle cx="870.72" cy="514.09" r="3.10"/><circle cx="874.31" cy="516.35" r="3.10"/><circle cx="877.91" cy="517.12" r="3.10"/><circle cx="881.50" cy="520.11" r="3.10"/><circle cx="885.10" cy="509.25" r="3.10"/><circle cx="888.69" cy="511.42" r="3.10"/><circle cx="892.29" cy="512.61" r="3.10"/><circle cx="895.88" cy="511.53" r="3.10"/><circle cx="899.48" cy="514.71" r="3.10"/><circle cx="903.07" cy="515.58" r="3.10"/><circle cx="906.67" cy="512.60" r="3.10"/><circle cx="910.26" cy="516.46" r="3.10"/><circle cx="913.86" cy="516.46" r="3.10"/><circle cx="917.10" cy="506.70" r="3.10"/><circle cx="920.60" cy="522.90" r="3.10"/><circle cx="924.10" cy="506.70" r="3.10"/><circle cx="927.50" cy="511.00" r="3.10"/><circle cx="929.90" cy="512.50" r="3.10"/><circle cx="934.00" cy="514.00" r="3.10"/><circle cx="938.50" cy="515.00" r="3.10"/><circle cx="942.00" cy="516.00" r="3.10"/><circle cx="946.10" cy="522.90" r="3.10"/><circle cx="949.60" cy="499.70" r="3.10"/><circle cx="953.00" cy="522.90" r="3.10"/><circle cx="956.50" cy="525.00" r="3.10"/><circle cx="960.00" cy="527.00" r="3.10"/><circle cx="963.50" cy="529.90" r="3.10"/><circle cx="967.00" cy="533.30" r="3.10"/><circle cx="970.50" cy="529.90" r="3.10"/><circle cx="974.00" cy="525.00" r="3.10"/><circle cx="977.40" cy="510.10" r="3.10"/><circle cx="982.00" cy="535.70" r="3.10"/><circle cx="985.50" cy="514.80" r="3.10"/><circle cx="989.00" cy="541.40" r="3.10"/><circle cx="992.50" cy="528.70" r="3.10"/><circle cx="996.00" cy="528.70" r="3.10"/><circle cx="999.50" cy="531.00" r="3.10"/><circle cx="1002.90" cy="522.90" r="3.10"/><circle cx="1006.40" cy="534.50" r="3.10"/><circle cx="1010.00" cy="534.50" r="3.10"/><circle cx="1013.30" cy="526.40" r="3.10"/><circle cx="1016.80" cy="526.40" r="3.10"/><circle cx="1020.30" cy="526.40" r="3.10"/><circle cx="1023.00" cy="525.00" r="3.10"/><circle cx="1025.00" cy="517.10" r="3.10"/><circle cx="1028.40" cy="535.70" r="3.10"/><circle cx="1031.90" cy="527.50" r="3.10"/><circle cx="1042.30" cy="532.20" r="3.10"/><circle cx="1045.80" cy="540.30" r="3.10"/><circle cx="1057.40" cy="532.20" r="3.10"/><circle cx="1064.40" cy="532.20" r="3.10"/><circle cx="1036.09" cy="546.10" r="3.10"/><circle cx="1039.68" cy="546.10" r="3.10"/><circle cx="1050.47" cy="546.10" r="3.10"/><circle cx="1054.07" cy="546.10" r="3.10"/><circle cx="1061.26" cy="546.10" r="3.10"/><circle cx="1068.44" cy="546.10" r="3.10"/><circle cx="1072.04" cy="546.10" r="3.10"/><circle cx="1075.63" cy="546.10" r="3.10"/><circle cx="1079.23" cy="546.10" r="3.10"/><circle cx="1082.83" cy="546.10" r="3.10"/><circle cx="1086.42" cy="546.10" r="3.10"/><circle cx="1090.01" cy="546.10" r="3.10"/><circle cx="1093.61" cy="546.10" r="3.10"/><circle cx="1097.20" cy="546.10" r="3.10"/></g>
<path d="M768.88,546.10V537.60M768.88,489.00V497.50M815.95,546.10V537.60M815.95,489.00V497.50M863.02,546.10V537.60M863.02,489.00V497.50M910.10,546.10V537.60M910.10,489.00V497.50M957.17,546.10V537.60M957.17,489.00V497.50M1004.25,546.10V537.60M1004.25,489.00V497.50M1051.32,546.10V537.60M1051.32,489.00V497.50M1098.40,546.10V537.60M1098.40,489.00V497.50M725.40,447.91H733.90M1113.70,447.91H1105.20M725.40,434.82H733.90M1113.70,434.82H1105.20M725.40,421.73H733.90M1113.70,421.73H1105.20M725.40,408.64H733.90M1113.70,408.64H1105.20M725.40,395.55H733.90M1113.70,395.55H1105.20M725.40,382.46H733.90M1113.70,382.46H1105.20M725.40,369.37H733.90M1113.70,369.37H1105.20M725.40,356.28H733.90M1113.70,356.28H1105.20M725.40,343.19H733.90M1113.70,343.19H1105.20M725.40,330.10H733.90M1113.70,330.10H1105.20M725.40,317.01H733.90M1113.70,317.01H1105.20M725.40,303.92H733.90M1113.70,303.92H1105.20M725.40,290.83H733.90M1113.70,290.83H1105.20M725.40,277.74H733.90M1113.70,277.74H1105.20M725.40,264.65H733.90M1113.70,264.65H1105.20M725.40,251.56H733.90M1113.70,251.56H1105.20M725.40,238.47H733.90M1113.70,238.47H1105.20M725.40,225.38H733.90M1113.70,225.38H1105.20M725.40,212.29H733.90M1113.70,212.29H1105.20M725.40,199.20H733.90M1113.70,199.20H1105.20M725.40,186.11H733.90M1113.70,186.11H1105.20M725.40,173.02H733.90M1113.70,173.02H1105.20M725.40,159.93H733.90M1113.70,159.93H1105.20M725.40,146.84H733.90M1113.70,146.84H1105.20M725.40,133.75H733.90M1113.70,133.75H1105.20M725.40,120.66H733.90M1113.70,120.66H1105.20M725.40,107.57H733.90M1113.70,107.57H1105.20M725.40,94.48H733.90M1113.70,94.48H1105.20M725.40,81.39H733.90M1113.70,81.39H1105.20M725.40,68.30H733.90M1113.70,68.30H1105.20M725.40,55.21H733.90M1113.70,55.21H1105.20M725.40,42.12H733.90M1113.70,42.12H1105.20M725.40,29.03H733.90M1113.70,29.03H1105.20M725.40,15.94H733.90M1113.70,15.94H1105.20M725.40,531.83H733.90M1113.70,531.83H1105.20M725.40,503.27H733.90M1113.70,503.27H1105.20" stroke="#000" stroke-width="1.30" fill="none"/>
<path d="M910.10,546.10V529.10M910.10,489.00V506.00M1098.40,546.10V529.10M1098.40,489.00V506.00M725.40,395.55H742.40M1113.70,395.55H1096.70M725.40,330.10H742.40M1113.70,330.10H1096.70M725.40,264.65H742.40M1113.70,264.65H1096.70M725.40,199.20H742.40M1113.70,199.20H1096.70M725.40,133.75H742.40M1113.70,133.75H1096.70M725.40,68.30H742.40M1113.70,68.30H1096.70" stroke="#000" stroke-width="1.50" fill="none"/>
<rect x="725.4" y="4.4" width="388.30000000000007" height="456.6" fill="none" stroke="#000" stroke-width="2.80"/>
<rect x="725.4" y="489" width="388.30000000000007" height="57.10000000000002" fill="none" stroke="#000" stroke-width="2.80"/>
<g font-size="31px" stroke="#000" stroke-width="0.35"><text transform="translate(719.80,460.20) scale(0.985,1.055)" y="11.10" text-anchor="end">0.00000</text><text transform="translate(719.80,394.75) scale(0.985,1.055)" y="11.10" text-anchor="end">0.00025</text><text transform="translate(719.80,329.30) scale(0.985,1.055)" y="11.10" text-anchor="end">0.00050</text><text transform="translate(719.80,263.85) scale(0.985,1.055)" y="11.10" text-anchor="end">0.00075</text><text transform="translate(719.80,198.40) scale(0.985,1.055)" y="11.10" text-anchor="end">0.00100</text><text transform="translate(719.80,132.95) scale(0.985,1.055)" y="11.10" text-anchor="end">0.00125</text><text transform="translate(719.80,67.50) scale(0.985,1.055)" y="11.10" text-anchor="end">0.00150</text><text transform="translate(719.80,488.20) scale(0.985,1.055)" y="11.10" text-anchor="end">2</text><text transform="translate(719.80,545.30) scale(0.985,1.055)" y="11.10" text-anchor="end">0</text><text transform="translate(910.10,564.40) scale(0.985,1.055)" y="11.10" text-anchor="middle">2000</text><text transform="translate(1098.40,564.40) scale(0.985,1.055)" y="11.10" text-anchor="middle">4000</text></g>
<text x="1115.20" y="610.50" text-anchor="end" font-size="28.6px">Jet Energy (GeV)</text>
<text transform="translate(596.60,2.90) rotate(-90)" text-anchor="end" font-size="28.6px">Entries (norm.)</text>
<text transform="translate(596.60,487.80) rotate(-90)" text-anchor="end" font-size="28.6px">Gen/Input</text>
<clipPath id="cp"><rect x="1302.5" y="1.3" width="406.29999999999995" height="457.0"/></clipPath>
<clipPath id="rp"><rect x="1302.5" y="485.2" width="406.29999999999995" height="59.80000000000001"/></clipPath>
<path d="M1319.50,458.30 L1356.85,458.30 L1356.85,458.00 L1360.59,458.00 L1360.59,457.50 L1364.32,457.50 L1364.32,456.40 L1371.79,456.40 L1371.79,456.20 L1375.53,456.20 L1375.53,454.10 L1379.26,454.10 L1379.26,454.30 L1382.99,454.30 L1382.99,450.40 L1386.73,450.40 L1386.73,445.70 L1390.46,445.70 L1390.46,438.80 L1394.20,438.80 L1394.20,436.20 L1397.93,436.20 L1397.93,425.10 L1401.67,425.10 L1401.67,407.90 L1405.40,407.90 L1405.40,400.80 L1409.14,400.80 L1409.14,375.90 L1412.88,375.90 L1412.88,355.70 L1416.61,355.70 L1416.61,314.20 L1420.35,314.20 L1420.35,269.10 L1424.08,269.10 L1424.08,214.60 L1427.82,214.60 L1427.82,164.30 L1431.55,164.30 L1431.55,116.60 L1435.29,116.60 L1435.29,70.90 L1439.02,70.90 L1439.02,34.50 L1442.76,34.50 L1442.76,22.80 L1446.49,22.80 L1446.49,47.70 L1450.22,47.70 L1450.22,110.00 L1453.96,110.00 L1453.96,166.30 L1457.69,166.30 L1457.69,206.50 L1461.43,206.50 L1461.43,258.10 L1465.16,258.10 L1465.16,276.50 L1468.90,276.50 L1468.90,318.30 L1472.63,318.30 L1472.63,340.40 L1476.37,340.40 L1476.37,363.70 L1480.11,363.70 L1480.11,374.80 L1483.84,374.80 L1483.84,394.40 L1487.58,394.40 L1487.58,405.50 L1491.31,405.50 L1491.31,414.10 L1495.05,414.10 L1495.05,423.90 L1498.78,423.90 L1498.78,427.60 L1502.51,427.60 L1502.51,436.20 L1506.25,436.20 L1506.25,438.50 L1509.98,438.50 L1509.98,441.00 L1513.72,441.00 L1513.72,444.00 L1517.45,444.00 L1517.45,449.30 L1521.19,449.30 L1521.19,449.70 L1524.92,449.70 L1524.92,451.70 L1528.66,451.70 L1528.66,453.50 L1532.39,453.50 L1532.39,454.20 L1539.87,454.20 L1539.87,454.90 L1543.60,454.90 L1543.60,455.20 L1547.34,455.20 L1547.34,454.90 L1554.81,454.90 L1554.81,456.60 L1562.28,456.60 L1562.28,456.30 L1569.74,456.30 L1569.74,456.60 L1573.48,456.60 L1573.48,457.20 L1592.15,457.20 L1592.15,456.80 L1603.36,456.80 L1603.36,457.50 L1610.83,457.50 L1610.83,457.60 L1618.30,457.60 L1618.30,458.30 L1693.00,458.30" fill="none" stroke="#E69F00" stroke-width="2.30" stroke-linejoin="miter" stroke-linecap="butt" clip-path="url(#cp)"/>
<path d="M1319.50,458.30 L1360.59,458.30 L1360.59,457.50 L1364.32,457.50 L1364.32,457.00 L1368.06,457.00 L1368.06,455.70 L1375.53,455.70 L1375.53,455.20 L1379.26,455.20 L1379.26,452.50 L1382.99,452.50 L1382.99,451.50 L1386.73,451.50 L1386.73,447.40 L1390.46,447.40 L1390.46,443.70 L1394.20,443.70 L1394.20,432.50 L1397.93,432.50 L1397.93,424.60 L1401.67,424.60 L1401.67,417.40 L1405.40,417.40 L1405.40,394.90 L1409.14,394.90 L1409.14,379.50 L1412.88,379.50 L1412.88,343.90 L1416.61,343.90 L1416.61,315.40 L1420.35,315.40 L1420.35,269.10 L1424.08,269.10 L1424.08,235.90 L1427.82,235.90 L1427.82,198.00 L1431.55,198.00 L1431.55,150.40 L1435.29,150.40 L1435.29,108.00 L1439.02,108.00 L1439.02,98.10 L1442.76,98.10 L1442.76,79.50 L1446.49,79.50 L1446.49,83.50 L1450.22,83.50 L1450.22,90.10 L1453.96,90.10 L1453.96,141.10 L1457.69,141.10 L1457.69,184.40 L1461.43,184.40 L1461.43,212.60 L1465.16,212.60 L1465.16,255.60 L1468.90,255.60 L1468.90,287.60 L1472.63,287.60 L1472.63,324.40 L1476.37,324.40 L1476.37,357.60 L1480.11,357.60 L1480.11,356.30 L1483.84,356.30 L1483.84,378.40 L1487.58,378.40 L1487.58,393.20 L1491.31,393.20 L1491.31,401.80 L1495.05,401.80 L1495.05,412.80 L1498.78,412.80 L1498.78,426.30 L1502.51,426.30 L1502.51,430.00 L1506.25,430.00 L1506.25,435.00 L1509.98,435.00 L1509.98,437.60 L1513.72,437.60 L1513.72,443.00 L1517.45,443.00 L1517.45,447.60 L1521.19,447.60 L1521.19,448.50 L1524.92,448.50 L1524.92,452.10 L1528.66,452.10 L1528.66,450.00 L1532.39,450.00 L1532.39,452.40 L1536.13,452.40 L1536.13,453.50 L1539.87,453.50 L1539.87,453.10 L1543.60,453.10 L1543.60,454.50 L1547.34,454.50 L1547.34,455.60 L1551.07,455.60 L1551.07,455.90 L1554.81,455.90 L1554.81,456.50 L1558.54,456.50 L1558.54,456.30 L1566.01,456.30 L1566.01,456.80 L1577.21,456.80 L1577.21,457.00 L1588.42,457.00 L1588.42,457.30 L1595.89,457.30 L1595.89,457.80 L1607.10,457.80 L1607.10,458.30 L1693.00,458.30" fill="none" stroke="#009E73" stroke-width="2.30" stroke-dasharray="4.8 2.1" stroke-linejoin="miter" stroke-linecap="butt" clip-path="url(#cp)"/>
<line x1="1302.5" y1="515.10" x2="1708.8" y2="515.10" stroke="#747474" stroke-width="2.20"/>
<path d="M1358.40,414.80V614.80M1355.40,414.80H1361.40M1355.40,614.80H1361.40M1362.10,414.80V614.80M1359.10,414.80H1365.10M1359.10,614.80H1365.10M1365.80,477.80V505.80M1362.80,477.80H1368.80M1362.80,505.80H1368.80M1367.00,492.60V516.60M1364.00,492.60H1370.00M1364.00,516.60H1370.00M1370.00,493.40V517.40M1367.00,493.40H1373.00M1367.00,517.40H1373.00M1372.60,496.90V516.90M1369.60,496.90H1375.60M1369.60,516.90H1375.60M1376.00,505.80V523.80M1373.00,505.80H1379.00M1373.00,523.80H1379.00M1380.50,482.30V504.30M1377.50,482.30H1383.50M1377.50,504.30H1383.50M1383.90,510.60V524.20M1380.90,510.60H1386.90M1380.90,524.20H1386.90M1386.90,512.20V524.20M1383.90,512.20H1389.90M1383.90,524.20H1389.90M1391.40,517.70V527.70M1388.40,517.70H1394.40M1388.40,527.70H1394.40M1395.20,506.10V513.70M1392.20,506.10H1398.20M1392.20,513.70H1398.20M1399.00,510.40V518.40M1396.00,510.40H1402.00M1396.00,518.40H1402.00M1403.10,516.90V523.90M1400.10,516.90H1406.10M1400.10,523.90H1406.10M1406.50,507.60V513.60M1403.50,507.60H1409.50M1403.50,513.60H1409.50M1410.30,512.20V518.20M1407.30,512.20H1413.30M1407.30,518.20H1413.30M1414.00,508.40V514.40M1411.00,508.40H1417.00M1411.00,514.40H1417.00M1417.80,511.40V517.40M1414.80,511.40H1420.80M1414.80,517.40H1420.80M1421.60,511.40V517.40M1418.60,511.40H1424.60M1418.60,517.40H1424.60M1425.40,515.20V521.20M1422.40,515.20H1428.40M1422.40,521.20H1428.40M1429.10,516.30V522.30M1426.10,516.30H1432.10M1426.10,522.30H1432.10M1432.90,515.20V521.20M1429.90,515.20H1435.90M1429.90,521.20H1435.90M1436.70,515.50V521.50M1433.70,515.50H1439.70M1433.70,521.50H1439.70M1440.40,516.70V522.70M1437.40,516.70H1443.40M1437.40,522.70H1443.40M1444.20,515.50V521.50M1441.20,515.50H1447.20M1441.20,521.50H1447.20M1448.00,513.70V519.70M1445.00,513.70H1451.00M1445.00,519.70H1451.00M1451.00,509.10V515.10M1448.00,509.10H1454.00M1448.00,515.10H1454.00M1454.70,508.40V514.40M1451.70,508.40H1457.70M1451.70,514.40H1457.70M1458.50,507.60V513.60M1455.50,507.60H1461.50M1455.50,513.60H1461.50M1462.30,504.60V510.60M1459.30,504.60H1465.30M1459.30,510.60H1465.30M1466.00,506.90V512.90M1463.00,506.90H1469.00M1463.00,512.90H1469.00M1469.80,504.60V510.60M1466.80,504.60H1472.80M1466.80,510.60H1472.80M1473.60,506.90V512.90M1470.60,506.90H1476.60M1470.60,512.90H1476.60M1477.50,509.50V515.50M1474.50,509.50H1480.50M1474.50,515.50H1480.50M1481.30,504.60V510.60M1478.30,504.60H1484.30M1478.30,510.60H1484.30M1485.10,503.10V509.10M1482.10,503.10H1488.10M1482.10,509.10H1488.10M1488.80,503.10V509.10M1485.80,503.10H1491.80M1485.80,509.10H1491.80M1492.60,503.90V509.90M1489.60,503.90H1495.60M1489.60,509.90H1495.60M1496.40,501.20V508.80M1493.40,501.20H1499.40M1493.40,508.80H1499.40M1500.10,512.50V518.50M1497.10,512.50H1503.10M1497.10,518.50H1503.10M1503.90,503.10V512.10M1500.90,503.10H1506.90M1500.90,512.10H1506.90M1507.70,505.90V513.90M1504.70,505.90H1510.70M1504.70,513.90H1510.70M1511.40,495.60V508.40M1508.40,495.60H1514.40M1508.40,508.40H1514.40M1515.20,505.60V515.60M1512.20,505.60H1518.20M1512.20,515.60H1518.20M1518.20,506.40V516.40M1515.20,506.40H1521.20M1515.20,516.40H1521.20M1522.00,500.80V514.40M1519.00,500.80H1525.00M1519.00,514.40H1525.00M1526.10,512.90V525.70M1523.10,512.90H1529.10M1523.10,525.70H1529.10M1529.50,497.10V515.10M1526.50,497.10H1532.50M1526.50,515.10H1532.50M1533.30,492.60V516.60M1530.30,492.60H1536.30M1530.30,516.60H1536.30M1537.10,497.10V518.10M1534.10,497.10H1540.10M1534.10,518.10H1540.10M1540.80,500.80V517.40M1537.80,500.80H1543.80M1537.80,517.40H1543.80M1545.00,508.00V525.40M1542.00,508.00H1548.00M1542.00,525.40H1548.00M1548.80,494.60V520.60M1545.80,494.60H1551.80M1545.80,520.60H1551.80M1552.10,520.60V536.00M1549.10,520.60H1555.10M1549.10,536.00H1555.10M1556.30,492.60V528.60M1553.30,492.60H1559.30M1553.30,528.60H1559.30M1559.70,415.00V615.00M1556.70,415.00H1562.70M1556.70,615.00H1562.70M1563.40,484.70V520.70M1560.40,484.70H1566.40M1560.40,520.70H1566.40M1567.20,510.70V534.70M1564.20,510.70H1570.20M1564.20,534.70H1570.20M1570.60,430.20V630.20M1567.60,430.20H1573.60M1567.60,630.20H1573.60M1574.70,415.00V615.00M1571.70,415.00H1577.70M1571.70,615.00H1577.70M1578.50,415.00V615.00M1575.50,415.00H1581.50M1575.50,615.00H1581.50M1586.00,527.50V543.50M1583.00,527.50H1589.00M1583.00,543.50H1589.00M1589.40,489.80V539.80M1586.40,489.80H1592.40M1586.40,539.80H1592.40M1593.20,520.20V540.20M1590.20,520.20H1596.20M1590.20,540.20H1596.20M1597.00,440.00V640.00M1594.00,440.00H1600.00M1594.00,640.00H1600.00M1630.60,414.80V614.80M1627.60,414.80H1633.60M1627.60,614.80H1633.60M1641.80,414.80V614.80M1638.80,414.80H1644.80M1638.80,614.80H1644.80" stroke="#009E73" stroke-width="2.00" fill="none" clip-path="url(#rp)"/>
<g fill="#009E73" clip-path="url(#rp)"><circle cx="1358.40" cy="514.80" r="3.10"/><circle cx="1362.10" cy="514.80" r="3.10"/><circle cx="1365.80" cy="491.80" r="3.10"/><circle cx="1367.00" cy="504.60" r="3.10"/><circle cx="1370.00" cy="505.40" r="3.10"/><circle cx="1372.60" cy="506.90" r="3.10"/><circle cx="1376.00" cy="514.80" r="3.10"/><circle cx="1380.50" cy="493.30" r="3.10"/><circle cx="1383.90" cy="517.40" r="3.10"/><circle cx="1386.90" cy="518.20" r="3.10"/><circle cx="1391.40" cy="522.70" r="3.10"/><circle cx="1395.20" cy="509.90" r="3.10"/><circle cx="1399.00" cy="514.40" r="3.10"/><circle cx="1403.10" cy="520.40" r="3.10"/><circle cx="1406.50" cy="510.60" r="3.10"/><circle cx="1410.30" cy="515.20" r="3.10"/><circle cx="1414.00" cy="511.40" r="3.10"/><circle cx="1417.80" cy="514.40" r="3.10"/><circle cx="1421.60" cy="514.40" r="3.10"/><circle cx="1425.40" cy="518.20" r="3.10"/><circle cx="1429.10" cy="519.30" r="3.10"/><circle cx="1432.90" cy="518.20" r="3.10"/><circle cx="1436.70" cy="518.50" r="3.10"/><circle cx="1440.40" cy="519.70" r="3.10"/><circle cx="1444.20" cy="518.50" r="3.10"/><circle cx="1448.00" cy="516.70" r="3.10"/><circle cx="1451.00" cy="512.10" r="3.10"/><circle cx="1454.70" cy="511.40" r="3.10"/><circle cx="1458.50" cy="510.60" r="3.10"/><circle cx="1462.30" cy="507.60" r="3.10"/><circle cx="1466.00" cy="509.90" r="3.10"/><circle cx="1469.80" cy="507.60" r="3.10"/><circle cx="1473.60" cy="509.90" r="3.10"/><circle cx="1477.50" cy="512.50" r="3.10"/><circle cx="1481.30" cy="507.60" r="3.10"/><circle cx="1485.10" cy="506.10" r="3.10"/><circle cx="1488.80" cy="506.10" r="3.10"/><circle cx="1492.60" cy="506.90" r="3.10"/><circle cx="1496.40" cy="505.00" r="3.10"/><circle cx="1500.10" cy="515.50" r="3.10"/><circle cx="1503.90" cy="507.60" r="3.10"/><circle cx="1507.70" cy="509.90" r="3.10"/><circle cx="1511.40" cy="502.00" r="3.10"/><circle cx="1515.20" cy="510.60" r="3.10"/><circle cx="1518.20" cy="511.40" r="3.10"/><circle cx="1522.00" cy="507.60" r="3.10"/><circle cx="1526.10" cy="519.30" r="3.10"/><circle cx="1529.50" cy="506.10" r="3.10"/><circle cx="1533.30" cy="504.60" r="3.10"/><circle cx="1537.10" cy="507.60" r="3.10"/><circle cx="1540.80" cy="509.10" r="3.10"/><circle cx="1545.00" cy="516.70" r="3.10"/><circle cx="1548.80" cy="507.60" r="3.10"/><circle cx="1552.10" cy="528.30" r="3.10"/><circle cx="1556.30" cy="510.60" r="3.10"/><circle cx="1559.70" cy="515.00" r="3.10"/><circle cx="1563.40" cy="502.70" r="3.10"/><circle cx="1567.20" cy="522.70" r="3.10"/><circle cx="1570.60" cy="530.20" r="3.10"/><circle cx="1574.70" cy="515.00" r="3.10"/><circle cx="1578.50" cy="515.00" r="3.10"/><circle cx="1586.00" cy="535.50" r="3.10"/><circle cx="1589.40" cy="514.80" r="3.10"/><circle cx="1593.20" cy="530.20" r="3.10"/><circle cx="1597.00" cy="540.00" r="3.10"/><circle cx="1630.60" cy="514.80" r="3.10"/><circle cx="1641.80" cy="514.80" r="3.10"/><circle cx="1320.60" cy="545.00" r="3.10"/><circle cx="1324.33" cy="545.00" r="3.10"/><circle cx="1328.07" cy="545.00" r="3.10"/><circle cx="1331.80" cy="545.00" r="3.10"/><circle cx="1335.54" cy="545.00" r="3.10"/><circle cx="1339.27" cy="545.00" r="3.10"/><circle cx="1343.01" cy="545.00" r="3.10"/><circle cx="1346.74" cy="545.00" r="3.10"/><circle cx="1350.48" cy="545.00" r="3.10"/><circle cx="1354.21" cy="545.00" r="3.10"/><circle cx="1582.05" cy="545.00" r="3.10"/><circle cx="1600.72" cy="545.00" r="3.10"/><circle cx="1604.46" cy="545.00" r="3.10"/><circle cx="1608.19" cy="545.00" r="3.10"/><circle cx="1611.93" cy="545.00" r="3.10"/><circle cx="1615.66" cy="545.00" r="3.10"/><circle cx="1619.40" cy="545.00" r="3.10"/><circle cx="1623.13" cy="545.00" r="3.10"/><circle cx="1626.87" cy="545.00" r="3.10"/><circle cx="1634.34" cy="545.00" r="3.10"/><circle cx="1638.07" cy="545.00" r="3.10"/><circle cx="1645.54" cy="545.00" r="3.10"/><circle cx="1649.28" cy="545.00" r="3.10"/><circle cx="1653.01" cy="545.00" r="3.10"/><circle cx="1656.75" cy="545.00" r="3.10"/><circle cx="1660.48" cy="545.00" r="3.10"/><circle cx="1664.22" cy="545.00" r="3.10"/><circle cx="1667.95" cy="545.00" r="3.10"/><circle cx="1671.69" cy="545.00" r="3.10"/><circle cx="1675.42" cy="545.00" r="3.10"/><circle cx="1679.16" cy="545.00" r="3.10"/><circle cx="1682.89" cy="545.00" r="3.10"/><circle cx="1686.63" cy="545.00" r="3.10"/><circle cx="1690.36" cy="545.00" r="3.10"/></g>
<path d="M1319.00,545.00V536.50M1319.00,485.20V493.70M1343.90,545.00V536.50M1343.90,485.20V493.70M1368.80,545.00V536.50M1368.80,485.20V493.70M1393.70,545.00V536.50M1393.70,485.20V493.70M1418.60,545.00V536.50M1418.60,485.20V493.70M1443.50,545.00V536.50M1443.50,485.20V493.70M1468.40,545.00V536.50M1468.40,485.20V493.70M1493.30,545.00V536.50M1493.30,485.20V493.70M1518.20,545.00V536.50M1518.20,485.20V493.70M1543.10,545.00V536.50M1543.10,485.20V493.70M1568.00,545.00V536.50M1568.00,485.20V493.70M1592.90,545.00V536.50M1592.90,485.20V493.70M1617.80,545.00V536.50M1617.80,485.20V493.70M1642.70,545.00V536.50M1642.70,485.20V493.70M1667.60,545.00V536.50M1667.60,485.20V493.70M1692.50,545.00V536.50M1692.50,485.20V493.70M1302.50,442.25H1311.00M1708.80,442.25H1700.30M1302.50,426.20H1311.00M1708.80,426.20H1700.30M1302.50,410.15H1311.00M1708.80,410.15H1700.30M1302.50,394.10H1311.00M1708.80,394.10H1700.30M1302.50,378.05H1311.00M1708.80,378.05H1700.30M1302.50,362.00H1311.00M1708.80,362.00H1700.30M1302.50,345.95H1311.00M1708.80,345.95H1700.30M1302.50,329.90H1311.00M1708.80,329.90H1700.30M1302.50,313.85H1311.00M1708.80,313.85H1700.30M1302.50,297.80H1311.00M1708.80,297.80H1700.30M1302.50,281.75H1311.00M1708.80,281.75H1700.30M1302.50,265.70H1311.00M1708.80,265.70H1700.30M1302.50,249.65H1311.00M1708.80,249.65H1700.30M1302.50,233.60H1311.00M1708.80,233.60H1700.30M1302.50,217.55H1311.00M1708.80,217.55H1700.30M1302.50,201.50H1311.00M1708.80,201.50H1700.30M1302.50,185.45H1311.00M1708.80,185.45H1700.30M1302.50,169.40H1311.00M1708.80,169.40H1700.30M1302.50,153.35H1311.00M1708.80,153.35H1700.30M1302.50,137.30H1311.00M1708.80,137.30H1700.30M1302.50,121.25H1311.00M1708.80,121.25H1700.30M1302.50,105.20H1311.00M1708.80,105.20H1700.30M1302.50,89.15H1311.00M1708.80,89.15H1700.30M1302.50,73.10H1311.00M1708.80,73.10H1700.30M1302.50,57.05H1311.00M1708.80,57.05H1700.30M1302.50,41.00H1311.00M1708.80,41.00H1700.30M1302.50,24.95H1311.00M1708.80,24.95H1700.30M1302.50,8.90H1311.00M1708.80,8.90H1700.30M1302.50,530.05H1311.00M1708.80,530.05H1700.30M1302.50,500.15H1311.00M1708.80,500.15H1700.30" stroke="#000" stroke-width="1.30" fill="none"/>
<path d="M1319.00,545.00V528.00M1319.00,485.20V502.20M1443.50,545.00V528.00M1443.50,485.20V502.20M1568.00,545.00V528.00M1568.00,485.20V502.20M1692.50,545.00V528.00M1692.50,485.20V502.20M1302.50,378.05H1319.50M1708.80,378.05H1691.80M1302.50,297.80H1319.50M1708.80,297.80H1691.80M1302.50,217.55H1319.50M1708.80,217.55H1691.80M1302.50,137.30H1319.50M1708.80,137.30H1691.80M1302.50,57.05H1319.50M1708.80,57.05H1691.80" stroke="#000" stroke-width="1.50" fill="none"/>
<rect x="1302.5" y="1.3" width="406.29999999999995" height="457.0" fill="none" stroke="#000" stroke-width="2.80"/>
<rect x="1302.5" y="485.2" width="406.29999999999995" height="59.80000000000001" fill="none" stroke="#000" stroke-width="2.80"/>
<g font-size="31px" stroke="#000" stroke-width="0.35"><text transform="translate(1297.50,457.50) scale(0.985,1.055)" y="11.10" text-anchor="end">0.0000</text><text transform="translate(1297.50,377.25) scale(0.985,1.055)" y="11.10" text-anchor="end">0.0005</text><text transform="translate(1297.50,297.00) scale(0.985,1.055)" y="11.10" text-anchor="end">0.0010</text><text transform="translate(1297.50,216.75) scale(0.985,1.055)" y="11.10" text-anchor="end">0.0015</text><text transform="translate(1297.50,136.50) scale(0.985,1.055)" y="11.10" text-anchor="end">0.0020</text><text transform="translate(1297.50,56.25) scale(0.985,1.055)" y="11.10" text-anchor="end">0.0025</text><text transform="translate(1297.50,484.40) scale(0.985,1.055)" y="11.10" text-anchor="end">2</text><text transform="translate(1297.50,544.20) scale(0.985,1.055)" y="11.10" text-anchor="end">0</text><text transform="translate(1319.00,564.40) scale(0.985,1.055)" y="11.10" text-anchor="middle">0</text><text transform="translate(1443.50,564.40) scale(0.985,1.055)" y="11.10" text-anchor="middle">1000</text><text transform="translate(1568.00,564.40) scale(0.985,1.055)" y="11.10" text-anchor="middle">2000</text><text transform="translate(1692.50,564.40) scale(0.985,1.055)" y="11.10" text-anchor="middle">3000</text></g>
<text x="1708.80" y="610.50" text-anchor="end" font-size="28.6px">Jet p<tspan font-size="20.5px" dy="4.3">T</tspan><tspan dy="-4.3"> (GeV)</tspan></text>
<text transform="translate(1190.80,-0.20) rotate(-90)" text-anchor="end" font-size="28.6px">Entries (norm.)</text>
<text transform="translate(1190.80,484.00) rotate(-90)" text-anchor="end" font-size="28.6px">Gen/Input</text>
<clipPath id="ceta"><rect x="372.5" y="642.7" width="471.79999999999995" height="473.29999999999995"/></clipPath>
<clipPath id="reta"><rect x="372.5" y="1140.3" width="471.79999999999995" height="69.29999999999995"/></clipPath>
<path d="M392.60,1116.00 L457.40,1116.00 L457.40,1114.00 L466.04,1114.00 L466.04,1113.00 L470.36,1113.00 L470.36,1107.90 L474.68,1107.90 L474.68,1104.90 L487.64,1104.90 L487.64,1094.80 L491.96,1094.80 L491.96,1089.70 L496.28,1089.70 L496.28,1084.60 L500.60,1084.60 L500.60,1072.50 L504.92,1072.50 L504.92,1060.40 L509.24,1060.40 L509.24,1047.20 L513.56,1047.20 L513.56,1033.00 L517.88,1033.00 L517.88,998.60 L522.20,998.60 L522.20,1004.70 L526.52,1004.70 L526.52,969.30 L530.84,969.30 L530.84,942.00 L535.16,942.00 L535.16,928.80 L539.48,928.80 L539.48,887.00 L543.80,887.00 L543.80,853.60 L548.12,853.60 L548.12,872.40 L552.44,872.40 L552.44,838.80 L556.76,838.80 L556.76,833.10 L561.08,833.10 L561.08,784.90 L565.40,784.90 L565.40,779.10 L569.72,779.10 L569.72,758.70 L574.04,758.70 L574.04,750.50 L578.36,750.50 L578.36,746.40 L582.68,746.40 L582.68,735.80 L587.00,735.80 L587.00,722.80 L591.32,722.80 L591.32,668.00 L595.64,668.00 L595.64,689.00 L599.96,689.00 L599.96,665.00 L604.28,665.00 L604.28,674.80 L608.60,674.80 L608.60,669.70 L612.92,669.70 L612.92,683.00 L617.24,683.00 L617.24,725.00 L621.56,725.00 L621.56,675.70 L625.88,675.70 L625.88,715.10 L630.20,715.10 L630.20,711.70 L634.52,711.70 L634.52,725.00 L638.84,725.00 L638.84,758.10 L643.16,758.10 L643.16,748.70 L647.48,748.70 L647.48,782.20 L651.80,782.20 L651.80,779.90 L656.12,779.90 L656.12,800.90 L660.44,800.90 L660.44,855.50 L664.76,855.50 L664.76,866.20 L669.08,866.20 L669.08,880.30 L673.40,880.30 L673.40,911.80 L682.04,911.80 L682.04,943.80 L686.36,943.80 L686.36,967.00 L690.68,967.00 L690.68,979.20 L695.00,979.20 L695.00,1016.60 L699.32,1016.60 L699.32,1025.00 L703.64,1025.00 L703.64,1040.90 L707.96,1040.90 L707.96,1060.60 L712.28,1060.60 L712.28,1069.00 L716.60,1069.00 L716.60,1081.20 L720.92,1081.20 L720.92,1095.20 L725.24,1095.20 L725.24,1103.60 L729.56,1103.60 L729.56,1106.40 L738.20,1106.40 L738.20,1107.40 L742.52,1107.40 L742.52,1114.00 L746.84,1114.00 L746.84,1114.30 L759.80,1114.30 L759.80,1116.00 L824.60,1116.00" fill="none" stroke="#E69F00" stroke-width="2.39" stroke-linejoin="miter" stroke-linecap="butt" clip-path="url(#ceta)"/>
<path d="M392.60,1116.00 L461.72,1116.00 L461.72,1114.50 L466.04,1114.50 L466.04,1114.00 L470.36,1114.00 L470.36,1112.00 L474.68,1112.00 L474.68,1107.90 L479.00,1107.90 L479.00,1106.90 L487.64,1106.90 L487.64,1097.80 L491.96,1097.80 L491.96,1096.80 L496.28,1096.80 L496.28,1085.70 L500.60,1085.70 L500.60,1070.50 L504.92,1070.50 L504.92,1055.30 L509.24,1055.30 L509.24,1040.10 L513.56,1040.10 L513.56,1030.00 L517.88,1030.00 L517.88,992.60 L522.20,992.60 L522.20,986.50 L526.52,986.50 L526.52,965.20 L530.84,965.20 L530.84,949.00 L535.16,949.00 L535.16,920.70 L539.48,920.70 L539.48,886.00 L543.80,886.00 L543.80,869.10 L548.12,869.10 L548.12,867.50 L552.44,867.50 L552.44,839.70 L556.76,839.70 L556.76,813.50 L561.08,813.50 L561.08,783.20 L565.40,783.20 L565.40,756.20 L569.72,756.20 L569.72,757.00 L574.04,757.00 L574.04,764.40 L578.36,764.40 L578.36,741.50 L582.68,741.50 L582.68,706.50 L587.00,706.50 L587.00,704.00 L591.32,704.00 L591.32,709.10 L595.64,709.10 L595.64,678.30 L599.96,678.30 L599.96,668.00 L604.28,668.00 L604.28,712.10 L608.60,712.10 L608.60,712.00 L612.92,712.00 L612.92,703.80 L617.24,703.80 L617.24,696.70 L621.56,696.70 L621.56,702.80 L625.88,702.80 L625.88,695.00 L630.20,695.00 L630.20,684.60 L634.52,684.60 L634.52,691.60 L638.84,691.60 L638.84,740.90 L643.16,740.90 L643.16,776.80 L647.48,776.80 L647.48,775.20 L651.80,775.20 L651.80,765.10 L656.12,765.10 L656.12,790.00 L660.44,790.00 L660.44,843.00 L664.76,843.00 L664.76,874.00 L669.08,874.00 L669.08,888.00 L673.40,888.00 L673.40,886.00 L677.72,886.00 L677.72,920.50 L682.04,920.50 L682.04,929.60 L686.36,929.60 L686.36,953.00 L690.68,953.00 L690.68,981.00 L695.00,981.00 L695.00,1004.40 L699.32,1004.40 L699.32,1029.70 L703.64,1029.70 L703.64,1045.60 L707.96,1045.60 L707.96,1072.70 L712.28,1072.70 L712.28,1086.80 L716.60,1086.80 L716.60,1092.40 L720.92,1092.40 L720.92,1101.70 L725.24,1101.70 L725.24,1107.40 L729.56,1107.40 L729.56,1112.00 L733.88,1112.00 L733.88,1113.90 L738.20,1113.90 L738.20,1114.80 L742.52,1114.80 L742.52,1116.00 L824.60,1116.00" fill="none" stroke="#009E73" stroke-width="2.39" stroke-dasharray="4.8 2.1" stroke-linejoin="miter" stroke-linecap="butt" clip-path="url(#ceta)"/>
<line x1="372.5" y1="1174.95" x2="844.3" y2="1174.95" stroke="#747474" stroke-width="2.29"/>
<path d="M467.40,1074.60V1274.60M464.28,1074.60H470.52M464.28,1274.60H470.52M471.30,1189.20V1208.00M468.18,1189.20H474.42M468.18,1208.00H474.42M475.90,1175.00V1194.40M472.78,1175.00H479.02M472.78,1194.40H479.02M480.00,1176.40V1191.60M476.88,1176.40H483.12M476.88,1191.60H483.12M483.50,1176.70V1192.70M480.38,1176.70H486.62M480.38,1192.70H486.62M487.00,1178.70V1190.70M483.88,1178.70H490.12M483.88,1190.70H490.12M490.50,1179.70V1189.70M487.38,1179.70H493.62M487.38,1189.70H493.62M493.30,1179.90V1190.90M490.18,1179.90H496.42M490.18,1190.90H496.42M496.70,1170.80V1181.80M493.58,1170.80H499.82M493.58,1181.80H499.82M500.20,1167.90V1177.90M497.08,1167.90H503.32M497.08,1177.90H503.32M503.70,1166.30V1175.30M500.58,1166.30H506.82M500.58,1175.30H506.82M507.90,1164.70V1172.70M504.78,1164.70H511.02M504.78,1172.70H511.02M510.70,1165.40V1173.40M507.58,1165.40H513.82M507.58,1173.40H513.82M514.80,1170.80V1177.80M511.68,1170.80H517.92M511.68,1177.80H517.92M518.30,1168.70V1175.70M515.18,1168.70H521.42M515.18,1175.70H521.42M523.20,1164.70V1172.70M520.08,1164.70H526.32M520.08,1172.70H526.32M527.30,1169.70V1176.10M524.18,1169.70H530.42M524.18,1176.10H530.42M531.50,1173.30V1179.30M528.38,1173.30H534.62M528.38,1179.30H534.62M535.70,1169.20V1175.20M532.58,1169.20H538.82M532.58,1175.20H538.82M539.90,1174.00V1180.00M536.78,1174.00H543.02M536.78,1180.00H543.02M544.00,1174.00V1180.00M540.88,1174.00H547.12M540.88,1180.00H547.12M547.50,1172.00V1178.00M544.38,1172.00H550.62M544.38,1178.00H550.62M551.00,1169.90V1175.90M547.88,1169.90H554.12M547.88,1175.90H554.12M555.20,1171.30V1177.30M552.08,1171.30H558.32M552.08,1177.30H558.32M558.70,1169.20V1175.20M555.58,1169.20H561.82M555.58,1175.20H561.82M562.80,1172.00V1178.00M559.68,1172.00H565.92M559.68,1178.00H565.92M567.00,1169.90V1175.90M563.88,1169.90H570.12M563.88,1175.90H570.12M571.40,1172.00V1178.00M568.28,1172.00H574.52M568.28,1178.00H574.52M575.60,1174.00V1180.00M572.48,1174.00H578.72M572.48,1180.00H578.72M579.70,1170.90V1176.90M576.58,1170.90H582.82M576.58,1176.90H582.82M583.90,1168.50V1174.50M580.78,1168.50H587.02M580.78,1174.50H587.02M588.10,1169.90V1175.90M584.98,1169.90H591.22M584.98,1175.90H591.22M593.00,1175.40V1181.40M589.88,1175.40H596.12M589.88,1181.40H596.12M597.10,1169.90V1175.90M593.98,1169.90H600.22M593.98,1175.90H600.22M601.30,1172.00V1178.00M598.18,1172.00H604.42M598.18,1178.00H604.42M606.20,1175.40V1181.40M603.08,1175.40H609.32M603.08,1181.40H609.32M610.30,1176.10V1182.10M607.18,1176.10H613.42M607.18,1182.10H613.42M614.50,1174.00V1180.00M611.38,1174.00H617.62M611.38,1180.00H617.62M618.70,1168.50V1174.50M615.58,1168.50H621.82M615.58,1174.50H621.82M623.60,1174.00V1180.00M620.48,1174.00H626.72M620.48,1180.00H626.72M627.70,1170.60V1176.60M624.58,1170.60H630.82M624.58,1176.60H630.82M631.90,1169.20V1175.20M628.78,1169.20H635.02M628.78,1175.20H635.02M636.10,1168.10V1174.10M632.98,1168.10H639.22M632.98,1174.10H639.22M640.30,1169.90V1175.90M637.18,1169.90H643.42M637.18,1175.90H643.42M644.80,1174.70V1180.70M641.68,1174.70H647.92M641.68,1180.70H647.92M649.30,1170.60V1176.60M646.18,1170.60H652.42M646.18,1176.60H652.42M653.50,1169.90V1175.90M650.38,1169.90H656.62M650.38,1175.90H656.62M657.70,1169.90V1175.90M654.58,1169.90H660.82M654.58,1175.90H660.82M661.80,1169.90V1175.90M658.68,1169.90H664.92M658.68,1175.90H664.92M666.70,1174.00V1180.00M663.58,1174.00H669.82M663.58,1180.00H669.82M670.90,1174.00V1180.00M667.78,1174.00H674.02M667.78,1180.00H674.02M675.40,1166.40V1172.40M672.28,1166.40H678.52M672.28,1172.40H678.52M679.90,1174.00V1180.00M676.78,1174.00H683.02M676.78,1180.00H683.02M684.10,1168.50V1174.50M680.98,1168.50H687.22M680.98,1174.50H687.22M688.30,1167.80V1173.80M685.18,1167.80H691.42M685.18,1173.80H691.42M692.70,1172.70V1178.70M689.58,1172.70H695.82M689.58,1178.70H695.82M697.20,1167.80V1173.80M694.08,1167.80H700.32M694.08,1173.80H700.32M701.70,1173.30V1179.30M698.58,1173.30H704.82M698.58,1179.30H704.82M705.20,1174.70V1180.70M702.08,1174.70H708.32M702.08,1180.70H708.32M709.70,1179.10V1186.10M706.58,1179.10H712.82M706.58,1186.10H712.82M714.20,1185.40V1192.40M711.08,1185.40H717.32M711.08,1192.40H717.32M718.40,1182.80V1190.80M715.28,1182.80H721.52M715.28,1190.80H721.52M722.60,1180.70V1188.70M719.48,1180.70H725.72M719.48,1188.70H725.72M726.70,1179.70V1189.70M723.58,1179.70H729.82M723.58,1189.70H729.82M731.60,1189.70V1197.70M728.48,1189.70H734.72M728.48,1197.70H734.72M735.80,1196.40V1206.40M732.68,1196.40H738.92M732.68,1206.40H738.92M740.00,1197.10V1207.10M736.88,1197.10H743.12M736.88,1207.10H743.12M744.10,1195.70V1205.70M740.98,1195.70H747.22M740.98,1205.70H747.22M761.90,1075.00V1275.00M758.78,1075.00H765.02M758.78,1275.00H765.02" stroke="#009E73" stroke-width="2.08" fill="none" clip-path="url(#reta)"/>
<g fill="#009E73" clip-path="url(#reta)"><circle cx="467.40" cy="1174.60" r="3.22"/><circle cx="471.30" cy="1198.60" r="3.22"/><circle cx="475.90" cy="1184.70" r="3.22"/><circle cx="480.00" cy="1184.00" r="3.22"/><circle cx="483.50" cy="1184.70" r="3.22"/><circle cx="487.00" cy="1184.70" r="3.22"/><circle cx="490.50" cy="1184.70" r="3.22"/><circle cx="493.30" cy="1185.40" r="3.22"/><circle cx="496.70" cy="1176.30" r="3.22"/><circle cx="500.20" cy="1172.90" r="3.22"/><circle cx="503.70" cy="1170.80" r="3.22"/><circle cx="507.90" cy="1168.70" r="3.22"/><circle cx="510.70" cy="1169.40" r="3.22"/><circle cx="514.80" cy="1174.30" r="3.22"/><circle cx="518.30" cy="1172.20" r="3.22"/><circle cx="523.20" cy="1168.70" r="3.22"/><circle cx="527.30" cy="1172.90" r="3.22"/><circle cx="531.50" cy="1176.30" r="3.22"/><circle cx="535.70" cy="1172.20" r="3.22"/><circle cx="539.90" cy="1177.00" r="3.22"/><circle cx="544.00" cy="1177.00" r="3.22"/><circle cx="547.50" cy="1175.00" r="3.22"/><circle cx="551.00" cy="1172.90" r="3.22"/><circle cx="555.20" cy="1174.30" r="3.22"/><circle cx="558.70" cy="1172.20" r="3.22"/><circle cx="562.80" cy="1175.00" r="3.22"/><circle cx="567.00" cy="1172.90" r="3.22"/><circle cx="571.40" cy="1175.00" r="3.22"/><circle cx="575.60" cy="1177.00" r="3.22"/><circle cx="579.70" cy="1173.90" r="3.22"/><circle cx="583.90" cy="1171.50" r="3.22"/><circle cx="588.10" cy="1172.90" r="3.22"/><circle cx="593.00" cy="1178.40" r="3.22"/><circle cx="597.10" cy="1172.90" r="3.22"/><circle cx="601.30" cy="1175.00" r="3.22"/><circle cx="606.20" cy="1178.40" r="3.22"/><circle cx="610.30" cy="1179.10" r="3.22"/><circle cx="614.50" cy="1177.00" r="3.22"/><circle cx="618.70" cy="1171.50" r="3.22"/><circle cx="623.60" cy="1177.00" r="3.22"/><circle cx="627.70" cy="1173.60" r="3.22"/><circle cx="631.90" cy="1172.20" r="3.22"/><circle cx="636.10" cy="1171.10" r="3.22"/><circle cx="640.30" cy="1172.90" r="3.22"/><circle cx="644.80" cy="1177.70" r="3.22"/><circle cx="649.30" cy="1173.60" r="3.22"/><circle cx="653.50" cy="1172.90" r="3.22"/><circle cx="657.70" cy="1172.90" r="3.22"/><circle cx="661.80" cy="1172.90" r="3.22"/><circle cx="666.70" cy="1177.00" r="3.22"/><circle cx="670.90" cy="1177.00" r="3.22"/><circle cx="675.40" cy="1169.40" r="3.22"/><circle cx="679.90" cy="1177.00" r="3.22"/><circle cx="684.10" cy="1171.50" r="3.22"/><circle cx="688.30" cy="1170.80" r="3.22"/><circle cx="692.70" cy="1175.70" r="3.22"/><circle cx="697.20" cy="1170.80" r="3.22"/><circle cx="701.70" cy="1176.30" r="3.22"/><circle cx="705.20" cy="1177.70" r="3.22"/><circle cx="709.70" cy="1182.60" r="3.22"/><circle cx="714.20" cy="1188.90" r="3.22"/><circle cx="718.40" cy="1186.80" r="3.22"/><circle cx="722.60" cy="1184.70" r="3.22"/><circle cx="726.70" cy="1184.70" r="3.22"/><circle cx="731.60" cy="1193.70" r="3.22"/><circle cx="735.80" cy="1201.40" r="3.22"/><circle cx="740.00" cy="1202.10" r="3.22"/><circle cx="744.10" cy="1200.70" r="3.22"/><circle cx="761.90" cy="1175.00" r="3.22"/><circle cx="394.10" cy="1209.60" r="3.22"/><circle cx="398.42" cy="1209.60" r="3.22"/><circle cx="402.74" cy="1209.60" r="3.22"/><circle cx="407.06" cy="1209.60" r="3.22"/><circle cx="411.38" cy="1209.60" r="3.22"/><circle cx="415.70" cy="1209.60" r="3.22"/><circle cx="420.02" cy="1209.60" r="3.22"/><circle cx="424.34" cy="1209.60" r="3.22"/><circle cx="428.66" cy="1209.60" r="3.22"/><circle cx="432.98" cy="1209.60" r="3.22"/><circle cx="437.30" cy="1209.60" r="3.22"/><circle cx="441.62" cy="1209.60" r="3.22"/><circle cx="445.94" cy="1209.60" r="3.22"/><circle cx="450.26" cy="1209.60" r="3.22"/><circle cx="454.58" cy="1209.60" r="3.22"/><circle cx="458.90" cy="1209.60" r="3.22"/><circle cx="463.22" cy="1209.60" r="3.22"/><circle cx="748.34" cy="1209.60" r="3.22"/><circle cx="752.66" cy="1209.60" r="3.22"/><circle cx="756.98" cy="1209.60" r="3.22"/><circle cx="765.62" cy="1209.60" r="3.22"/><circle cx="769.94" cy="1209.60" r="3.22"/><circle cx="774.26" cy="1209.60" r="3.22"/><circle cx="778.58" cy="1209.60" r="3.22"/><circle cx="782.90" cy="1209.60" r="3.22"/><circle cx="787.22" cy="1209.60" r="3.22"/><circle cx="791.54" cy="1209.60" r="3.22"/><circle cx="795.86" cy="1209.60" r="3.22"/><circle cx="800.18" cy="1209.60" r="3.22"/><circle cx="804.50" cy="1209.60" r="3.22"/><circle cx="808.82" cy="1209.60" r="3.22"/><circle cx="813.14" cy="1209.60" r="3.22"/><circle cx="817.46" cy="1209.60" r="3.22"/><circle cx="821.78" cy="1209.60" r="3.22"/></g>
<path d="M391.20,1209.60V1200.76M391.20,1140.30V1149.14M427.35,1209.60V1200.76M427.35,1140.30V1149.14M463.50,1209.60V1200.76M463.50,1140.30V1149.14M499.65,1209.60V1200.76M499.65,1140.30V1149.14M535.80,1209.60V1200.76M535.80,1140.30V1149.14M571.95,1209.60V1200.76M571.95,1140.30V1149.14M608.10,1209.60V1200.76M608.10,1140.30V1149.14M644.25,1209.60V1200.76M644.25,1140.30V1149.14M680.40,1209.60V1200.76M680.40,1140.30V1149.14M716.55,1209.60V1200.76M716.55,1140.30V1149.14M752.70,1209.60V1200.76M752.70,1140.30V1149.14M788.85,1209.60V1200.76M788.85,1140.30V1149.14M825.00,1209.60V1200.76M825.00,1140.30V1149.14M372.50,1099.91H381.34M844.30,1099.91H835.46M372.50,1083.82H381.34M844.30,1083.82H835.46M372.50,1067.73H381.34M844.30,1067.73H835.46M372.50,1051.64H381.34M844.30,1051.64H835.46M372.50,1035.55H381.34M844.30,1035.55H835.46M372.50,1019.46H381.34M844.30,1019.46H835.46M372.50,1003.37H381.34M844.30,1003.37H835.46M372.50,987.28H381.34M844.30,987.28H835.46M372.50,971.19H381.34M844.30,971.19H835.46M372.50,955.10H381.34M844.30,955.10H835.46M372.50,939.01H381.34M844.30,939.01H835.46M372.50,922.92H381.34M844.30,922.92H835.46M372.50,906.83H381.34M844.30,906.83H835.46M372.50,890.74H381.34M844.30,890.74H835.46M372.50,874.65H381.34M844.30,874.65H835.46M372.50,858.56H381.34M844.30,858.56H835.46M372.50,842.47H381.34M844.30,842.47H835.46M372.50,826.38H381.34M844.30,826.38H835.46M372.50,810.29H381.34M844.30,810.29H835.46M372.50,794.20H381.34M844.30,794.20H835.46M372.50,778.11H381.34M844.30,778.11H835.46M372.50,762.02H381.34M844.30,762.02H835.46M372.50,745.93H381.34M844.30,745.93H835.46M372.50,729.84H381.34M844.30,729.84H835.46M372.50,713.75H381.34M844.30,713.75H835.46M372.50,697.66H381.34M844.30,697.66H835.46M372.50,681.57H381.34M844.30,681.57H835.46M372.50,665.48H381.34M844.30,665.48H835.46M372.50,649.39H381.34M844.30,649.39H835.46M372.50,1192.27H381.34M844.30,1192.27H835.46M372.50,1157.62H381.34M844.30,1157.62H835.46" stroke="#000" stroke-width="1.35" fill="none"/>
<path d="M463.50,1209.60V1191.92M463.50,1140.30V1157.98M608.10,1209.60V1191.92M608.10,1140.30V1157.98M752.70,1209.60V1191.92M752.70,1140.30V1157.98M372.50,1035.55H390.18M844.30,1035.55H826.62M372.50,955.10H390.18M844.30,955.10H826.62M372.50,874.65H390.18M844.30,874.65H826.62M372.50,794.20H390.18M844.30,794.20H826.62M372.50,713.75H390.18M844.30,713.75H826.62" stroke="#000" stroke-width="1.56" fill="none"/>
<rect x="372.5" y="642.7" width="471.79999999999995" height="473.29999999999995" fill="none" stroke="#000" stroke-width="2.91"/>
<rect x="372.5" y="1140.3" width="471.79999999999995" height="69.29999999999995" fill="none" stroke="#000" stroke-width="2.91"/>
<g font-size="32.1px" stroke="#000" stroke-width="0.35"><text transform="translate(367.50,1115.20) scale(0.985,1.055)" y="11.49" text-anchor="end">0.0</text><text transform="translate(367.50,1034.75) scale(0.985,1.055)" y="11.49" text-anchor="end">0.1</text><text transform="translate(367.50,954.30) scale(0.985,1.055)" y="11.49" text-anchor="end">0.2</text><text transform="translate(367.50,873.85) scale(0.985,1.055)" y="11.49" text-anchor="end">0.3</text><text transform="translate(367.50,793.40) scale(0.985,1.055)" y="11.49" text-anchor="end">0.4</text><text transform="translate(367.50,712.95) scale(0.985,1.055)" y="11.49" text-anchor="end">0.5</text><text transform="translate(367.50,1139.50) scale(0.985,1.055)" y="11.49" text-anchor="end">2</text><text transform="translate(367.50,1208.80) scale(0.985,1.055)" y="11.49" text-anchor="end">0</text><text transform="translate(463.50,1230.01) scale(0.985,1.055)" y="11.49" text-anchor="middle">-2</text><text transform="translate(608.10,1230.01) scale(0.985,1.055)" y="11.49" text-anchor="middle">0</text><text transform="translate(752.70,1230.01) scale(0.985,1.055)" y="11.49" text-anchor="middle">2</text></g>
<text x="844.00" y="1277.00" text-anchor="end" font-size="29.7px">Jet <tspan font-family="DejaVu Sans">η</tspan></text>
<text transform="translate(309.60,641.20) rotate(-90)" text-anchor="end" font-size="29.7px">Entries (norm.)</text>
<text transform="translate(309.60,1139.10) rotate(-90)" text-anchor="end" font-size="29.7px">Gen/Input</text>
<clipPath id="cphi"><rect x="984.5" y="644.2" width="454.0" height="473.29999999999995"/></clipPath>
<clipPath id="rphi"><rect x="984.5" y="1142.6" width="454.0" height="67.60000000000014"/></clipPath>
<path d="M1004.80,1117.50 L1004.80,739.80 L1008.93,739.80 L1008.93,763.20 L1013.07,763.20 L1013.07,774.10 L1017.20,774.10 L1017.20,757.20 L1021.33,757.20 L1021.33,780.70 L1025.46,780.70 L1025.46,747.40 L1029.60,747.40 L1029.60,759.90 L1033.73,759.90 L1033.73,774.70 L1037.86,774.70 L1037.86,754.00 L1046.13,754.00 L1046.13,746.90 L1050.26,746.90 L1050.26,785.00 L1054.40,785.00 L1054.40,735.40 L1058.53,735.40 L1058.53,754.50 L1062.66,754.50 L1062.66,763.40 L1066.79,763.40 L1066.79,756.00 L1070.93,756.00 L1070.93,732.60 L1075.06,732.60 L1075.06,741.40 L1079.19,741.40 L1079.19,751.90 L1083.33,751.90 L1083.33,730.90 L1087.46,730.90 L1087.46,773.50 L1091.59,773.50 L1091.59,726.80 L1095.73,726.80 L1095.73,743.70 L1099.86,743.70 L1099.86,728.60 L1103.99,728.60 L1103.99,733.20 L1108.12,733.20 L1108.12,754.80 L1112.26,754.80 L1112.26,746.10 L1116.39,746.10 L1116.39,732.60 L1120.52,732.60 L1120.52,776.40 L1124.66,776.40 L1124.66,772.90 L1128.79,772.90 L1128.79,792.80 L1132.92,792.80 L1132.92,770.60 L1137.06,770.60 L1137.06,775.90 L1141.19,775.90 L1141.19,796.50 L1145.32,796.50 L1145.32,769.10 L1149.45,769.10 L1149.45,721.10 L1153.59,721.10 L1153.59,787.80 L1157.72,787.80 L1157.72,759.70 L1161.85,759.70 L1161.85,779.00 L1165.99,779.00 L1165.99,790.90 L1170.12,790.90 L1170.12,742.90 L1174.25,742.90 L1174.25,782.80 L1178.39,782.80 L1178.39,784.60 L1182.52,784.60 L1182.52,770.30 L1186.65,770.30 L1186.65,768.50 L1190.78,768.50 L1190.78,817.00 L1194.92,817.00 L1194.92,762.80 L1199.05,762.80 L1199.05,759.70 L1203.18,759.70 L1203.18,769.10 L1207.32,769.10 L1207.32,702.70 L1211.45,702.70 L1211.45,730.40 L1215.58,730.40 L1215.58,747.20 L1219.72,747.20 L1219.72,734.70 L1223.85,734.70 L1223.85,783.30 L1227.98,783.30 L1227.98,739.10 L1232.12,739.10 L1232.12,727.30 L1240.38,727.30 L1240.38,746.00 L1244.51,746.00 L1244.51,751.60 L1248.65,751.60 L1248.65,757.80 L1252.78,757.80 L1252.78,739.70 L1256.91,739.70 L1256.91,752.80 L1261.05,752.80 L1261.05,797.00 L1265.18,797.00 L1265.18,738.50 L1269.31,738.50 L1269.31,787.70 L1273.44,787.70 L1273.44,711.10 L1277.58,711.10 L1277.58,770.30 L1281.71,770.30 L1281.71,717.90 L1285.84,717.90 L1285.84,730.40 L1289.98,730.40 L1289.98,777.10 L1294.11,777.10 L1294.11,725.40 L1298.24,725.40 L1298.24,716.60 L1302.38,716.60 L1302.38,757.10 L1310.64,757.10 L1310.64,789.50 L1314.78,789.50 L1314.78,728.50 L1318.91,728.50 L1318.91,760.90 L1323.04,760.90 L1323.04,771.50 L1327.17,771.50 L1327.17,779.60 L1331.31,779.60 L1331.31,759.60 L1335.44,759.60 L1335.44,778.90 L1339.57,778.90 L1339.57,757.80 L1343.71,757.80 L1343.71,741.60 L1347.84,741.60 L1347.84,756.50 L1351.97,756.50 L1351.97,760.30 L1356.11,760.30 L1356.11,755.90 L1360.24,755.90 L1360.24,711.10 L1364.37,711.10 L1364.37,701.10 L1368.50,701.10 L1368.50,763.40 L1372.64,763.40 L1372.64,758.40 L1376.77,758.40 L1376.77,787.70 L1380.90,787.70 L1380.90,757.20 L1385.04,757.20 L1385.04,789.60 L1389.17,789.60 L1389.17,712.90 L1393.30,712.90 L1393.30,728.50 L1397.43,728.50 L1397.43,779.00 L1401.57,779.00 L1401.57,770.20 L1405.70,770.20 L1405.70,767.80 L1409.83,767.80 L1409.83,773.40 L1413.97,773.40 L1413.97,751.60 L1418.10,751.60 L1418.10,1117.50" fill="none" stroke="#E69F00" stroke-width="2.39" stroke-linejoin="miter" stroke-linecap="butt" clip-path="url(#cphi)"/>
<path d="M1004.80,1117.50 L1004.80,795.90 L1008.93,795.90 L1008.93,777.90 L1013.07,777.90 L1013.07,769.80 L1017.20,769.80 L1017.20,804.60 L1021.33,804.60 L1021.33,762.70 L1025.46,762.70 L1025.46,738.10 L1029.60,738.10 L1029.60,770.80 L1033.73,770.80 L1033.73,771.90 L1037.86,771.90 L1037.86,778.50 L1042.00,778.50 L1042.00,746.90 L1046.13,746.90 L1046.13,772.50 L1050.26,772.50 L1050.26,798.10 L1054.40,798.10 L1054.40,794.80 L1058.53,794.80 L1058.53,807.40 L1062.66,807.40 L1062.66,800.30 L1066.79,800.30 L1066.79,820.30 L1070.93,820.30 L1070.93,792.80 L1075.06,792.80 L1075.06,794.60 L1079.19,794.60 L1079.19,770.00 L1083.33,770.00 L1083.33,750.70 L1087.46,750.70 L1087.46,718.00 L1091.59,718.00 L1091.59,760.10 L1095.73,760.10 L1095.73,794.60 L1099.86,794.60 L1099.86,739.60 L1103.99,739.60 L1103.99,712.20 L1108.12,712.20 L1108.12,757.20 L1112.26,757.20 L1112.26,772.90 L1116.39,772.90 L1116.39,744.90 L1120.52,744.90 L1120.52,729.70 L1124.66,729.70 L1124.66,765.90 L1128.79,765.90 L1128.79,770.00 L1137.06,770.00 L1137.06,795.50 L1141.19,795.50 L1141.19,801.50 L1145.32,801.50 L1145.32,834.50 L1149.45,834.50 L1149.45,788.40 L1153.59,788.40 L1153.59,786.50 L1157.72,786.50 L1157.72,766.60 L1161.85,766.60 L1161.85,795.90 L1165.99,795.90 L1165.99,717.40 L1170.12,717.40 L1170.12,779.70 L1174.25,779.70 L1174.25,729.20 L1178.39,729.20 L1178.39,758.50 L1182.52,758.50 L1182.52,752.30 L1186.65,752.30 L1186.65,754.70 L1190.78,754.70 L1190.78,768.50 L1194.92,768.50 L1194.92,783.40 L1199.05,783.40 L1199.05,734.80 L1203.18,734.80 L1203.18,758.70 L1207.32,758.70 L1207.32,777.10 L1211.45,777.10 L1211.45,760.90 L1215.58,760.90 L1215.58,730.40 L1219.72,730.40 L1219.72,751.60 L1223.85,751.60 L1223.85,736.60 L1227.98,736.60 L1227.98,768.40 L1232.12,768.40 L1232.12,758.40 L1236.25,758.40 L1236.25,762.80 L1240.38,762.80 L1240.38,686.20 L1244.51,686.20 L1244.51,732.30 L1248.65,732.30 L1248.65,706.10 L1252.78,706.10 L1252.78,688.00 L1256.91,688.00 L1256.91,729.10 L1261.05,729.10 L1261.05,727.90 L1265.18,727.90 L1265.18,753.40 L1269.31,753.40 L1269.31,761.50 L1273.44,761.50 L1273.44,727.90 L1277.58,727.90 L1277.58,707.30 L1281.71,707.30 L1281.71,666.20 L1285.84,666.20 L1285.84,679.90 L1289.98,679.90 L1289.98,731.00 L1294.11,731.00 L1294.11,808.80 L1298.24,808.80 L1298.24,742.80 L1302.38,742.80 L1302.38,693.60 L1310.64,693.60 L1310.64,693.00 L1314.78,693.00 L1314.78,689.90 L1318.91,689.90 L1318.91,739.70 L1323.04,739.70 L1323.04,767.10 L1331.31,767.10 L1331.31,780.20 L1335.44,780.20 L1335.44,785.20 L1339.57,785.20 L1339.57,746.50 L1343.71,746.50 L1343.71,715.40 L1347.84,715.40 L1347.84,690.50 L1351.97,690.50 L1351.97,762.80 L1356.11,762.80 L1356.11,779.00 L1360.24,779.00 L1360.24,770.20 L1364.37,770.20 L1364.37,746.00 L1368.50,746.00 L1368.50,764.00 L1372.64,764.00 L1372.64,712.30 L1376.77,712.30 L1376.77,738.50 L1380.90,738.50 L1380.90,764.60 L1385.04,764.60 L1385.04,752.80 L1389.17,752.80 L1389.17,790.20 L1393.30,790.20 L1393.30,780.20 L1397.43,780.20 L1397.43,757.20 L1401.57,757.20 L1401.57,738.50 L1405.70,738.50 L1405.70,762.80 L1409.83,762.80 L1409.83,741.60 L1413.97,741.60 L1413.97,801.40 L1418.10,801.40 L1418.10,1117.50" fill="none" stroke="#009E73" stroke-width="2.39" stroke-dasharray="4.8 2.1" stroke-linejoin="miter" stroke-linecap="butt" clip-path="url(#cphi)"/>
<line x1="984.5" y1="1176.40" x2="1438.5" y2="1176.40" stroke="#747474" stroke-width="2.29"/>
<path d="M1005.20,1177.72V1184.52M1002.08,1177.72H1008.32M1002.08,1184.52H1008.32M1009.33,1174.10V1180.90M1006.21,1174.10H1012.45M1006.21,1180.90H1012.45M1013.47,1172.28V1179.08M1010.35,1172.28H1016.59M1010.35,1179.08H1016.59M1017.60,1177.15V1183.95M1014.48,1177.15H1020.72M1014.48,1183.95H1020.72M1021.73,1170.89V1177.69M1018.61,1170.89H1024.85M1018.61,1177.69H1024.85M1025.87,1171.85V1178.65M1022.75,1171.85H1028.98M1022.75,1178.65H1028.98M1030.00,1173.73V1180.53M1026.88,1173.73H1033.12M1026.88,1180.53H1033.12M1034.13,1172.42V1179.22M1031.01,1172.42H1037.25M1031.01,1179.22H1037.25M1038.26,1174.98V1181.78M1035.14,1174.98H1041.38M1035.14,1181.78H1041.38M1042.40,1172.04V1178.84M1039.28,1172.04H1045.52M1039.28,1178.84H1045.52M1046.53,1175.03V1181.83M1043.41,1175.03H1049.65M1043.41,1181.83H1049.65M1050.66,1174.03V1180.83M1047.54,1174.03H1053.78M1047.54,1180.83H1053.78M1054.80,1177.95V1184.75M1051.68,1177.95H1057.92M1051.68,1184.75H1057.92M1058.93,1177.63V1184.43M1055.81,1177.63H1062.05M1055.81,1184.43H1062.05M1063.06,1176.22V1183.02M1059.94,1176.22H1066.18M1059.94,1183.02H1066.18M1067.19,1178.71V1185.51M1064.08,1178.71H1070.31M1064.08,1185.51H1070.31M1071.33,1177.99V1184.79M1068.21,1177.99H1074.45M1068.21,1184.79H1074.45M1075.46,1177.48V1184.28M1072.34,1177.48H1078.58M1072.34,1184.28H1078.58M1079.59,1174.37V1181.17M1076.47,1174.37H1082.71M1076.47,1181.17H1082.71M1083.73,1174.43V1181.23M1080.61,1174.43H1086.85M1080.61,1181.23H1086.85M1087.86,1167.25V1174.05M1084.74,1167.25H1090.98M1084.74,1174.05H1090.98M1091.99,1175.58V1182.38M1088.87,1175.58H1095.11M1088.87,1182.38H1095.11M1096.13,1177.30V1184.10M1093.01,1177.30H1099.25M1093.01,1184.10H1099.25M1100.26,1173.66V1180.46M1097.14,1173.66H1103.38M1097.14,1180.46H1103.38M1104.39,1170.85V1177.65M1101.27,1170.85H1107.51M1101.27,1177.65H1107.51M1108.53,1172.92V1179.72M1105.41,1172.92H1111.64M1105.41,1179.72H1111.64M1112.66,1175.14V1181.94M1109.54,1175.14H1115.78M1109.54,1181.94H1115.78M1116.79,1173.78V1180.58M1113.67,1173.78H1119.91M1113.67,1180.58H1119.91M1120.92,1168.07V1174.87M1117.80,1168.07H1124.04M1117.80,1174.87H1124.04M1125.06,1172.01V1178.81M1121.94,1172.01H1128.18M1121.94,1178.81H1128.18M1129.19,1170.33V1177.13M1126.07,1170.33H1132.31M1126.07,1177.13H1132.31M1133.32,1172.64V1179.44M1130.20,1172.64H1136.44M1130.20,1179.44H1136.44M1137.46,1174.64V1181.44M1134.34,1174.64H1140.58M1134.34,1181.44H1140.58M1141.59,1173.23V1180.03M1138.47,1173.23H1144.71M1138.47,1180.03H1144.71M1145.72,1179.04V1185.84M1142.60,1179.04H1148.84M1142.60,1185.84H1148.84M1149.86,1178.44V1185.24M1146.74,1178.44H1152.97M1146.74,1185.24H1152.97M1153.99,1172.57V1179.37M1150.87,1172.57H1157.11M1150.87,1179.37H1157.11M1158.12,1173.35V1180.15M1155.00,1173.35H1161.24M1155.00,1180.15H1161.24M1162.25,1174.39V1181.19M1159.13,1174.39H1165.37M1159.13,1181.19H1165.37M1166.39,1165.09V1171.89M1163.27,1165.09H1169.51M1163.27,1171.89H1169.51M1170.52,1176.02V1182.82M1167.40,1176.02H1173.64M1167.40,1182.82H1173.64M1174.65,1167.29V1174.09M1171.53,1167.29H1177.77M1171.53,1174.09H1177.77M1178.79,1170.05V1176.85M1175.67,1170.05H1181.91M1175.67,1176.85H1181.91M1182.92,1170.95V1177.75M1179.80,1170.95H1186.04M1179.80,1177.75H1186.04M1187.05,1171.36V1178.16M1183.93,1171.36H1190.17M1183.93,1178.16H1190.17M1191.18,1167.24V1174.04M1188.07,1167.24H1194.30M1188.07,1174.04H1194.30M1195.32,1174.66V1181.46M1192.20,1174.66H1198.44M1192.20,1181.46H1198.44M1199.45,1170.35V1177.15M1196.33,1170.35H1202.57M1196.33,1177.15H1202.57M1203.58,1171.69V1178.49M1200.46,1171.69H1206.70M1200.46,1178.49H1206.70M1207.72,1178.76V1185.56M1204.60,1178.76H1210.84M1204.60,1185.56H1210.84M1211.85,1175.36V1182.16M1208.73,1175.36H1214.97M1208.73,1182.16H1214.97M1215.98,1171.17V1177.97M1212.86,1171.17H1219.10M1212.86,1177.97H1219.10M1220.12,1174.19V1180.99M1217.00,1174.19H1223.24M1217.00,1180.99H1223.24M1224.25,1167.98V1174.78M1221.13,1167.98H1227.37M1221.13,1174.78H1227.37M1228.38,1175.32V1182.12M1225.26,1175.32H1231.50M1225.26,1182.12H1231.50M1232.52,1175.39V1182.19M1229.40,1175.39H1235.63M1229.40,1182.19H1235.63M1236.65,1175.78V1182.58M1233.53,1175.78H1239.77M1233.53,1182.58H1239.77M1240.78,1167.26V1174.06M1237.66,1167.26H1243.90M1237.66,1174.06H1243.90M1244.91,1170.92V1177.72M1241.79,1170.92H1248.03M1241.79,1177.72H1248.03M1249.05,1167.84V1174.64M1245.93,1167.84H1252.17M1245.93,1174.64H1252.17M1253.18,1168.07V1174.87M1250.06,1168.07H1256.30M1250.06,1174.87H1256.30M1257.31,1170.50V1177.30M1254.19,1170.50H1260.43M1254.19,1177.30H1260.43M1261.45,1165.41V1172.21M1258.33,1165.41H1264.57M1258.33,1172.21H1264.57M1265.58,1174.03V1180.83M1262.46,1174.03H1268.70M1262.46,1180.83H1268.70M1269.71,1170.01V1176.81M1266.59,1170.01H1272.83M1266.59,1176.81H1272.83M1273.85,1174.10V1180.90M1270.73,1174.10H1276.96M1270.73,1180.90H1276.96M1277.98,1166.57V1173.37M1274.86,1166.57H1281.10M1274.86,1173.37H1281.10M1282.11,1168.33V1175.13M1278.99,1168.33H1285.23M1278.99,1175.13H1285.23M1286.24,1168.29V1175.09M1283.12,1168.29H1289.36M1283.12,1175.09H1289.36M1290.38,1168.12V1174.92M1287.26,1168.12H1293.50M1287.26,1174.92H1293.50M1294.51,1179.89V1186.69M1291.39,1179.89H1297.63M1291.39,1186.69H1297.63M1298.64,1174.91V1181.71M1295.52,1174.91H1301.76M1295.52,1181.71H1301.76M1302.78,1166.74V1173.54M1299.66,1166.74H1305.90M1299.66,1173.54H1305.90M1306.91,1166.74V1173.54M1303.79,1166.74H1310.03M1303.79,1173.54H1310.03M1311.04,1162.76V1169.56M1307.92,1162.76H1314.16M1307.92,1169.56H1314.16M1315.18,1169.35V1176.15M1312.06,1169.35H1318.30M1312.06,1176.15H1318.30M1319.31,1170.69V1177.49M1316.19,1170.69H1322.43M1316.19,1177.49H1322.43M1323.44,1172.27V1179.07M1320.32,1172.27H1326.56M1320.32,1179.07H1326.56M1327.57,1171.45V1178.25M1324.45,1171.45H1330.69M1324.45,1178.25H1330.69M1331.71,1174.65V1181.45M1328.59,1174.65H1334.83M1328.59,1181.45H1334.83M1335.84,1173.33V1180.13M1332.72,1173.33H1338.96M1332.72,1180.13H1338.96M1339.97,1171.64V1178.44M1336.85,1171.64H1343.09M1336.85,1178.44H1343.09M1344.11,1170.34V1177.14M1340.99,1170.34H1347.23M1340.99,1177.14H1347.23M1348.24,1166.52V1173.32M1345.12,1166.52H1351.36M1345.12,1173.32H1351.36M1352.37,1172.94V1179.74M1349.25,1172.94H1355.49M1349.25,1179.74H1355.49M1356.51,1174.86V1181.66M1353.39,1174.86H1359.62M1353.39,1181.66H1359.62M1360.64,1177.62V1184.42M1357.52,1177.62H1363.76M1357.52,1184.42H1363.76M1364.77,1176.34V1183.14M1361.65,1176.34H1367.89M1361.65,1183.14H1367.89M1368.90,1172.76V1179.56M1365.78,1172.76H1372.02M1365.78,1179.56H1372.02M1373.04,1168.36V1175.16M1369.92,1168.36H1376.16M1369.92,1175.16H1376.16M1377.17,1167.66V1174.46M1374.05,1167.66H1380.29M1374.05,1174.46H1380.29M1381.30,1173.39V1180.19M1378.18,1173.39H1384.42M1378.18,1180.19H1384.42M1385.44,1168.91V1175.71M1382.32,1168.91H1388.56M1382.32,1175.71H1388.56M1389.57,1179.16V1185.96M1386.45,1179.16H1392.69M1386.45,1185.96H1392.69M1393.70,1177.19V1183.99M1390.58,1177.19H1396.82M1390.58,1183.99H1396.82M1397.84,1170.52V1177.32M1394.72,1170.52H1400.95M1394.72,1177.32H1400.95M1401.97,1169.61V1176.41M1398.85,1169.61H1405.09M1398.85,1176.41H1405.09M1406.10,1172.22V1179.02M1402.98,1172.22H1409.22M1402.98,1179.02H1409.22M1410.23,1169.58V1176.38M1407.11,1169.58H1413.35M1407.11,1176.38H1413.35M1414.37,1177.30V1184.10M1411.25,1177.30H1417.49M1411.25,1184.10H1417.49" stroke="#009E73" stroke-width="2.08" fill="none" clip-path="url(#rphi)"/>
<g fill="#009E73" clip-path="url(#rphi)"><circle cx="1005.20" cy="1181.12" r="3.22"/><circle cx="1009.33" cy="1177.50" r="3.22"/><circle cx="1013.47" cy="1175.68" r="3.22"/><circle cx="1017.60" cy="1180.55" r="3.22"/><circle cx="1021.73" cy="1174.29" r="3.22"/><circle cx="1025.87" cy="1175.25" r="3.22"/><circle cx="1030.00" cy="1177.13" r="3.22"/><circle cx="1034.13" cy="1175.82" r="3.22"/><circle cx="1038.26" cy="1178.38" r="3.22"/><circle cx="1042.40" cy="1175.44" r="3.22"/><circle cx="1046.53" cy="1178.43" r="3.22"/><circle cx="1050.66" cy="1177.43" r="3.22"/><circle cx="1054.80" cy="1181.35" r="3.22"/><circle cx="1058.93" cy="1181.03" r="3.22"/><circle cx="1063.06" cy="1179.62" r="3.22"/><circle cx="1067.19" cy="1182.11" r="3.22"/><circle cx="1071.33" cy="1181.39" r="3.22"/><circle cx="1075.46" cy="1180.88" r="3.22"/><circle cx="1079.59" cy="1177.77" r="3.22"/><circle cx="1083.73" cy="1177.83" r="3.22"/><circle cx="1087.86" cy="1170.65" r="3.22"/><circle cx="1091.99" cy="1178.98" r="3.22"/><circle cx="1096.13" cy="1180.70" r="3.22"/><circle cx="1100.26" cy="1177.06" r="3.22"/><circle cx="1104.39" cy="1174.25" r="3.22"/><circle cx="1108.53" cy="1176.32" r="3.22"/><circle cx="1112.66" cy="1178.54" r="3.22"/><circle cx="1116.79" cy="1177.18" r="3.22"/><circle cx="1120.92" cy="1171.47" r="3.22"/><circle cx="1125.06" cy="1175.41" r="3.22"/><circle cx="1129.19" cy="1173.73" r="3.22"/><circle cx="1133.32" cy="1176.04" r="3.22"/><circle cx="1137.46" cy="1178.04" r="3.22"/><circle cx="1141.59" cy="1176.63" r="3.22"/><circle cx="1145.72" cy="1182.44" r="3.22"/><circle cx="1149.86" cy="1181.84" r="3.22"/><circle cx="1153.99" cy="1175.97" r="3.22"/><circle cx="1158.12" cy="1176.75" r="3.22"/><circle cx="1162.25" cy="1177.79" r="3.22"/><circle cx="1166.39" cy="1168.49" r="3.22"/><circle cx="1170.52" cy="1179.42" r="3.22"/><circle cx="1174.65" cy="1170.69" r="3.22"/><circle cx="1178.79" cy="1173.45" r="3.22"/><circle cx="1182.92" cy="1174.35" r="3.22"/><circle cx="1187.05" cy="1174.76" r="3.22"/><circle cx="1191.18" cy="1170.64" r="3.22"/><circle cx="1195.32" cy="1178.06" r="3.22"/><circle cx="1199.45" cy="1173.75" r="3.22"/><circle cx="1203.58" cy="1175.09" r="3.22"/><circle cx="1207.72" cy="1182.16" r="3.22"/><circle cx="1211.85" cy="1178.76" r="3.22"/><circle cx="1215.98" cy="1174.57" r="3.22"/><circle cx="1220.12" cy="1177.59" r="3.22"/><circle cx="1224.25" cy="1171.38" r="3.22"/><circle cx="1228.38" cy="1178.72" r="3.22"/><circle cx="1232.52" cy="1178.79" r="3.22"/><circle cx="1236.65" cy="1179.18" r="3.22"/><circle cx="1240.78" cy="1170.66" r="3.22"/><circle cx="1244.91" cy="1174.32" r="3.22"/><circle cx="1249.05" cy="1171.24" r="3.22"/><circle cx="1253.18" cy="1171.47" r="3.22"/><circle cx="1257.31" cy="1173.90" r="3.22"/><circle cx="1261.45" cy="1168.81" r="3.22"/><circle cx="1265.58" cy="1177.43" r="3.22"/><circle cx="1269.71" cy="1173.41" r="3.22"/><circle cx="1273.85" cy="1177.50" r="3.22"/><circle cx="1277.98" cy="1169.97" r="3.22"/><circle cx="1282.11" cy="1171.73" r="3.22"/><circle cx="1286.24" cy="1171.69" r="3.22"/><circle cx="1290.38" cy="1171.52" r="3.22"/><circle cx="1294.51" cy="1183.29" r="3.22"/><circle cx="1298.64" cy="1178.31" r="3.22"/><circle cx="1302.78" cy="1170.14" r="3.22"/><circle cx="1306.91" cy="1170.14" r="3.22"/><circle cx="1311.04" cy="1166.16" r="3.22"/><circle cx="1315.18" cy="1172.75" r="3.22"/><circle cx="1319.31" cy="1174.09" r="3.22"/><circle cx="1323.44" cy="1175.67" r="3.22"/><circle cx="1327.57" cy="1174.85" r="3.22"/><circle cx="1331.71" cy="1178.05" r="3.22"/><circle cx="1335.84" cy="1176.73" r="3.22"/><circle cx="1339.97" cy="1175.04" r="3.22"/><circle cx="1344.11" cy="1173.74" r="3.22"/><circle cx="1348.24" cy="1169.92" r="3.22"/><circle cx="1352.37" cy="1176.34" r="3.22"/><circle cx="1356.51" cy="1178.26" r="3.22"/><circle cx="1360.64" cy="1181.02" r="3.22"/><circle cx="1364.77" cy="1179.74" r="3.22"/><circle cx="1368.90" cy="1176.16" r="3.22"/><circle cx="1373.04" cy="1171.76" r="3.22"/><circle cx="1377.17" cy="1171.06" r="3.22"/><circle cx="1381.30" cy="1176.79" r="3.22"/><circle cx="1385.44" cy="1172.31" r="3.22"/><circle cx="1389.57" cy="1182.56" r="3.22"/><circle cx="1393.70" cy="1180.59" r="3.22"/><circle cx="1397.84" cy="1173.92" r="3.22"/><circle cx="1401.97" cy="1173.01" r="3.22"/><circle cx="1406.10" cy="1175.62" r="3.22"/><circle cx="1410.23" cy="1172.98" r="3.22"/><circle cx="1414.37" cy="1180.70" r="3.22"/></g>
<path d="M1003.00,1210.20V1201.36M1003.00,1142.60V1151.44M1037.75,1210.20V1201.36M1037.75,1142.60V1151.44M1072.50,1210.20V1201.36M1072.50,1142.60V1151.44M1107.25,1210.20V1201.36M1107.25,1142.60V1151.44M1142.00,1210.20V1201.36M1142.00,1142.60V1151.44M1176.75,1210.20V1201.36M1176.75,1142.60V1151.44M1211.50,1210.20V1201.36M1211.50,1142.60V1151.44M1246.25,1210.20V1201.36M1246.25,1142.60V1151.44M1281.00,1210.20V1201.36M1281.00,1142.60V1151.44M1315.75,1210.20V1201.36M1315.75,1142.60V1151.44M1350.50,1210.20V1201.36M1350.50,1142.60V1151.44M1385.25,1210.20V1201.36M1385.25,1142.60V1151.44M1420.00,1210.20V1201.36M1420.00,1142.60V1151.44M984.50,1095.84H993.34M1438.50,1095.84H1429.66M984.50,1074.18H993.34M1438.50,1074.18H1429.66M984.50,1052.52H993.34M1438.50,1052.52H1429.66M984.50,1030.86H993.34M1438.50,1030.86H1429.66M984.50,1009.20H993.34M1438.50,1009.20H1429.66M984.50,987.54H993.34M1438.50,987.54H1429.66M984.50,965.88H993.34M1438.50,965.88H1429.66M984.50,944.22H993.34M1438.50,944.22H1429.66M984.50,922.56H993.34M1438.50,922.56H1429.66M984.50,900.90H993.34M1438.50,900.90H1429.66M984.50,879.24H993.34M1438.50,879.24H1429.66M984.50,857.58H993.34M1438.50,857.58H1429.66M984.50,835.92H993.34M1438.50,835.92H1429.66M984.50,814.26H993.34M1438.50,814.26H1429.66M984.50,792.60H993.34M1438.50,792.60H1429.66M984.50,770.94H993.34M1438.50,770.94H1429.66M984.50,749.28H993.34M1438.50,749.28H1429.66M984.50,727.62H993.34M1438.50,727.62H1429.66M984.50,705.96H993.34M1438.50,705.96H1429.66M984.50,684.30H993.34M1438.50,684.30H1429.66M984.50,662.64H993.34M1438.50,662.64H1429.66M984.50,1193.30H993.34M1438.50,1193.30H1429.66M984.50,1159.50H993.34M1438.50,1159.50H1429.66" stroke="#000" stroke-width="1.35" fill="none"/>
<path d="M1072.50,1210.20V1192.52M1072.50,1142.60V1160.28M1211.50,1210.20V1192.52M1211.50,1142.60V1160.28M1350.50,1210.20V1192.52M1350.50,1142.60V1160.28M984.50,1009.20H1002.18M1438.50,1009.20H1420.82M984.50,900.90H1002.18M1438.50,900.90H1420.82M984.50,792.60H1002.18M1438.50,792.60H1420.82M984.50,684.30H1002.18M1438.50,684.30H1420.82" stroke="#000" stroke-width="1.56" fill="none"/>
<rect x="984.5" y="644.2" width="454.0" height="473.29999999999995" fill="none" stroke="#000" stroke-width="2.91"/>
<rect x="984.5" y="1142.6" width="454.0" height="67.60000000000014" fill="none" stroke="#000" stroke-width="2.91"/>
<g font-size="32.1px" stroke="#000" stroke-width="0.35"><text transform="translate(979.50,1116.70) scale(0.985,1.055)" y="11.49" text-anchor="end">0.00</text><text transform="translate(979.50,1008.40) scale(0.985,1.055)" y="11.49" text-anchor="end">0.05</text><text transform="translate(979.50,900.10) scale(0.985,1.055)" y="11.49" text-anchor="end">0.10</text><text transform="translate(979.50,791.80) scale(0.985,1.055)" y="11.49" text-anchor="end">0.15</text><text transform="translate(979.50,683.50) scale(0.985,1.055)" y="11.49" text-anchor="end">0.20</text><text transform="translate(979.50,1141.80) scale(0.985,1.055)" y="11.49" text-anchor="end">2</text><text transform="translate(979.50,1209.40) scale(0.985,1.055)" y="11.49" text-anchor="end">0</text><text transform="translate(1072.50,1230.01) scale(0.985,1.055)" y="11.49" text-anchor="middle">-2</text><text transform="translate(1211.50,1230.01) scale(0.985,1.055)" y="11.49" text-anchor="middle">0</text><text transform="translate(1350.50,1230.01) scale(0.985,1.055)" y="11.49" text-anchor="middle">2</text></g>
<text x="1437.60" y="1277.00" text-anchor="end" font-size="29.7px">Jet <tspan font-family="DejaVu Sans">ϕ</tspan></text>
<text transform="translate(903.80,642.70) rotate(-90)" text-anchor="end" font-size="29.7px">Entries (norm.)</text>
<text transform="translate(903.80,1141.40) rotate(-90)" text-anchor="end" font-size="29.7px">Gen/Input</text>
<rect x="201" y="30.2" width="38.6" height="18" fill="none" stroke="#E69F00" stroke-width="2.2"/>
<rect x="201" y="68.1" width="38.6" height="17.8" fill="none" stroke="#009E73" stroke-width="2.2" stroke-dasharray="4.8 2.1"/>
<text x="259.5" y="48.4" font-size="26px">Input Test</text>
<text x="259.5" y="85.4" font-size="26px">ConVAE Gen</text>
</svg></body></html>
